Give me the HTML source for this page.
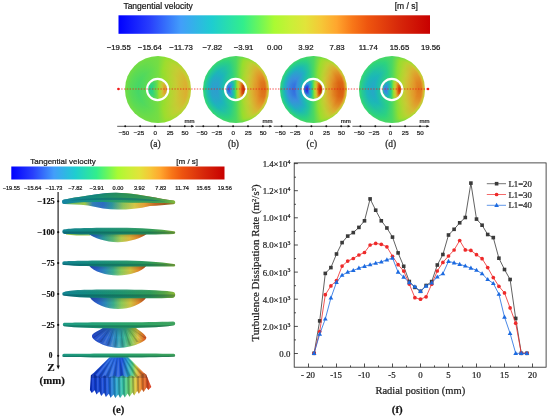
<!DOCTYPE html><html><head><meta charset="utf-8"><title>Figure</title><style>html,body{margin:0;padding:0;background:#fff}#f{position:relative;width:550px;height:418px;overflow:hidden;background:#fff}svg text{stroke:#222;stroke-width:0.22px}</style></head><body><div id="f"><div style="position:absolute;left:124.60px;top:56.20px;width:66.40px;height:66.40px;border-radius:50%;background:conic-gradient(#75dd43 0deg,#93de2f 15deg,#a4da2e 30deg,#b2d631 45deg,#bbd132 60deg,#c0ce33 75deg,#c2ce33 90deg,#c0ce33 105deg,#bbd132 120deg,#b2d631 135deg,#a4da2e 150deg,#93de2f 165deg,#75dd43 180deg,#74dd44 195deg,#72dc45 210deg,#72dc45 225deg,#71dc45 240deg,#70dc45 255deg,#70dc45 270deg,#70dc45 285deg,#71dc45 300deg,#72dc45 315deg,#72dc45 330deg,#74dd44 345deg,#75dd43 360deg)"></div><div style="position:absolute;left:125.60px;top:57.20px;width:64.40px;height:64.40px;border-radius:50%;background:conic-gradient(#75dd43 0deg,#97de2c 15deg,#a9d82f 30deg,#b7d332 45deg,#c2ce33 60deg,#c8ca34 75deg,#cac834 90deg,#c8ca34 105deg,#c2ce33 120deg,#b7d332 135deg,#a9d82f 150deg,#97de2c 165deg,#75dd43 180deg,#72dc45 195deg,#6fdc46 210deg,#6ddc47 225deg,#6ddc48 240deg,#6cdc49 255deg,#6bdc49 270deg,#6cdc49 285deg,#6ddc48 300deg,#6ddc47 315deg,#6fdc46 330deg,#72dc45 345deg,#75dd43 360deg)"></div><div style="position:absolute;left:126.60px;top:58.20px;width:62.40px;height:62.40px;border-radius:50%;background:conic-gradient(#75dd43 0deg,#9ade2d 15deg,#aed630 30deg,#bed033 45deg,#c9c934 60deg,#cfc133 75deg,#d1be32 90deg,#cfc133 105deg,#c9c934 120deg,#bed033 135deg,#aed630 150deg,#9ade2d 165deg,#75dd43 180deg,#70dc45 195deg,#6ddc48 210deg,#6adc4a 225deg,#67dc4c 240deg,#66dc4d 255deg,#65dc4d 270deg,#66dc4d 285deg,#67dc4c 300deg,#6adc4a 315deg,#6ddc48 330deg,#70dc45 345deg,#75dd43 360deg)"></div><div style="position:absolute;left:127.60px;top:59.20px;width:60.40px;height:60.40px;border-radius:50%;background:conic-gradient(#75dd43 0deg,#9ddd2d 15deg,#b3d531 30deg,#c4cd33 45deg,#cfc133 60deg,#d6b732 75deg,#d8b431 90deg,#d6b732 105deg,#cfc133 120deg,#c4cd33 135deg,#b3d531 150deg,#9ddd2d 165deg,#75dd43 180deg,#6edc46 195deg,#6adc4a 210deg,#66dc4d 225deg,#63db4e 240deg,#61db4f 255deg,#61db50 270deg,#61db4f 285deg,#63db4e 300deg,#66dc4d 315deg,#6adc4a 330deg,#6edc46 345deg,#75dd43 360deg)"></div><div style="position:absolute;left:128.60px;top:60.20px;width:58.40px;height:58.40px;border-radius:50%;background:conic-gradient(#75dd43 0deg,#9edc2d 15deg,#b6d431 30deg,#c7cb34 45deg,#d3bc32 60deg,#dab131 75deg,#dcad2f 90deg,#dab131 105deg,#d3bc32 120deg,#c7cb34 135deg,#b6d431 150deg,#9edc2d 165deg,#75dd43 180deg,#6ddc48 195deg,#67dc4c 210deg,#62db4f 225deg,#5edb51 240deg,#5ddb53 255deg,#5cdb54 270deg,#5ddb53 285deg,#5edb51 300deg,#62db4f 315deg,#67dc4c 330deg,#6ddc48 345deg,#75dd43 360deg)"></div><div style="position:absolute;left:129.60px;top:61.20px;width:56.40px;height:56.40px;border-radius:50%;background:conic-gradient(#75dd43 0deg,#9edd2d 15deg,#b5d531 30deg,#c6cc34 45deg,#d2be32 60deg,#d9b331 75deg,#dbaf30 90deg,#d9b331 105deg,#d2be32 120deg,#c6cc34 135deg,#b5d531 150deg,#9edd2d 165deg,#75dd43 180deg,#6cdc49 195deg,#65db4d 210deg,#5edb51 225deg,#5bdb55 240deg,#59da56 255deg,#58da57 270deg,#59da56 285deg,#5bdb55 300deg,#5edb51 315deg,#65db4d 330deg,#6cdc49 345deg,#75dd43 360deg)"></div><div style="position:absolute;left:130.60px;top:62.20px;width:54.40px;height:54.40px;border-radius:50%;background:conic-gradient(#75dd43 0deg,#9ddd2d 15deg,#b4d531 30deg,#c6cd34 45deg,#d1bf33 60deg,#d7b631 75deg,#dab231 90deg,#d7b631 105deg,#d1bf33 120deg,#c6cd34 135deg,#b4d531 150deg,#9ddd2d 165deg,#75dd43 180deg,#6bdc49 195deg,#63db4e 210deg,#5ddb53 225deg,#59da56 240deg,#56da58 255deg,#55da59 270deg,#56da58 285deg,#59da56 300deg,#5ddb53 315deg,#63db4e 330deg,#6bdc49 345deg,#75dd43 360deg)"></div><div style="position:absolute;left:131.60px;top:63.20px;width:52.40px;height:52.40px;border-radius:50%;background:conic-gradient(#75dd43 0deg,#9ddd2d 15deg,#b3d631 30deg,#c4cd33 45deg,#cfc133 60deg,#d6b732 75deg,#d8b431 90deg,#d6b732 105deg,#cfc133 120deg,#c4cd33 135deg,#b3d631 150deg,#9ddd2d 165deg,#75dd43 180deg,#6adc4a 195deg,#62db4f 210deg,#5bdb54 225deg,#56da58 240deg,#54d95a 255deg,#53d95b 270deg,#54d95a 285deg,#56da58 300deg,#5bdb54 315deg,#62db4f 330deg,#6adc4a 345deg,#75dd43 360deg)"></div><div style="position:absolute;left:132.60px;top:64.20px;width:50.40px;height:50.40px;border-radius:50%;background:conic-gradient(#75dd43 0deg,#9cdd2d 15deg,#b2d631 30deg,#c3ce33 45deg,#cec333 60deg,#d5b932 75deg,#d7b632 90deg,#d5b932 105deg,#cec333 120deg,#c3ce33 135deg,#b2d631 150deg,#9cdd2d 165deg,#75dd43 180deg,#69dc4a 195deg,#60db50 210deg,#59da55 225deg,#55da5a 240deg,#52d95d 255deg,#50d95d 270deg,#52d95d 285deg,#55da5a 300deg,#59da55 315deg,#60db50 330deg,#69dc4a 345deg,#75dd43 360deg)"></div><div style="position:absolute;left:133.60px;top:65.20px;width:48.40px;height:48.40px;border-radius:50%;background:conic-gradient(#75dd43 0deg,#9cdd2d 15deg,#b1d631 30deg,#c1ce33 45deg,#cdc533 60deg,#d3bc32 75deg,#d6b832 90deg,#d3bc32 105deg,#cdc533 120deg,#c1ce33 135deg,#b1d631 150deg,#9cdd2d 165deg,#75dd43 180deg,#68dc4b 195deg,#5edb51 210deg,#57da57 225deg,#52d95c 240deg,#4fd95e 255deg,#4ed85f 270deg,#4fd95e 285deg,#52d95c 300deg,#57da57 315deg,#5edb51 330deg,#68dc4b 345deg,#75dd43 360deg)"></div><div style="position:absolute;left:134.60px;top:66.20px;width:46.40px;height:46.40px;border-radius:50%;background:conic-gradient(#75dd43 0deg,#9bde2d 15deg,#b0d631 30deg,#c0ce33 45deg,#ccc633 60deg,#d2be32 75deg,#d4bb32 90deg,#d2be32 105deg,#ccc633 120deg,#c0ce33 135deg,#b0d631 150deg,#9bde2d 165deg,#75dd43 180deg,#67dc4c 195deg,#5ddb52 210deg,#55da59 225deg,#50d95d 240deg,#4dd860 255deg,#4cd862 270deg,#4dd860 285deg,#50d95d 300deg,#55da59 315deg,#5ddb52 330deg,#67dc4c 345deg,#75dd43 360deg)"></div><div style="position:absolute;left:135.60px;top:67.20px;width:44.40px;height:44.40px;border-radius:50%;background:conic-gradient(#75dd43 0deg,#9ade2d 15deg,#aed630 30deg,#becf33 45deg,#cac934 60deg,#d0c033 75deg,#d2be32 90deg,#d0c033 105deg,#cac934 120deg,#becf33 135deg,#aed630 150deg,#9ade2d 165deg,#75dd43 180deg,#66dc4c 195deg,#5cdb54 210deg,#54d95a 225deg,#4ed85f 240deg,#4bd863 255deg,#49d864 270deg,#4bd863 285deg,#4ed85f 300deg,#54d95a 315deg,#5cdb54 330deg,#66dc4c 345deg,#75dd43 360deg)"></div><div style="position:absolute;left:136.60px;top:68.20px;width:42.40px;height:42.40px;border-radius:50%;background:conic-gradient(#75dd43 0deg,#99de2c 15deg,#add730 30deg,#bcd132 45deg,#c6cc34 60deg,#cdc533 75deg,#cec233 90deg,#cdc533 105deg,#c6cc34 120deg,#bcd132 135deg,#add730 150deg,#99de2c 165deg,#75dd43 180deg,#65dc4d 195deg,#5bda55 210deg,#52d95c 225deg,#4cd861 240deg,#48d765 255deg,#46d765 270deg,#48d765 285deg,#4cd861 300deg,#52d95c 315deg,#5bda55 330deg,#65dc4d 345deg,#75dd43 360deg)"></div><div style="position:absolute;left:137.60px;top:69.20px;width:40.40px;height:40.40px;border-radius:50%;background:conic-gradient(#75dd43 0deg,#98de2c 15deg,#aad830 30deg,#b9d232 45deg,#c4ce33 60deg,#cac834 75deg,#ccc633 90deg,#cac834 105deg,#c4ce33 120deg,#b9d232 135deg,#aad830 150deg,#98de2c 165deg,#75dd43 180deg,#65dc4d 195deg,#5ada55 210deg,#51d95d 225deg,#4bd862 240deg,#47d765 255deg,#45d766 270deg,#47d765 285deg,#4bd862 300deg,#51d95d 315deg,#5ada55 330deg,#65dc4d 345deg,#75dd43 360deg)"></div><div style="position:absolute;left:138.60px;top:70.20px;width:38.40px;height:38.40px;border-radius:50%;background:conic-gradient(#75dd43 0deg,#97de2c 15deg,#a8d92f 30deg,#b6d432 45deg,#c0ce33 60deg,#c6cc34 75deg,#c8ca34 90deg,#c6cc34 105deg,#c0ce33 120deg,#b6d432 135deg,#a8d92f 150deg,#97de2c 165deg,#75dd43 180deg,#66dc4d 195deg,#5bdb54 210deg,#53d95b 225deg,#4dd860 240deg,#49d864 255deg,#48d865 270deg,#49d864 285deg,#4dd860 300deg,#53d95b 315deg,#5bdb54 330deg,#66dc4d 345deg,#75dd43 360deg)"></div><div style="position:absolute;left:139.60px;top:71.20px;width:36.40px;height:36.40px;border-radius:50%;background:conic-gradient(#75dd43 0deg,#95de2e 15deg,#a6da2f 30deg,#b4d531 45deg,#bdd032 60deg,#c3ce33 75deg,#c5cd34 90deg,#c3ce33 105deg,#bdd032 120deg,#b4d531 135deg,#a6da2f 150deg,#95de2e 165deg,#75dd43 180deg,#67dc4c 195deg,#5ddb53 210deg,#55da59 225deg,#4fd95e 240deg,#4cd861 255deg,#4bd862 270deg,#4cd861 285deg,#4fd95e 300deg,#55da59 315deg,#5ddb53 330deg,#67dc4c 345deg,#75dd43 360deg)"></div><div style="position:absolute;left:140.60px;top:72.20px;width:34.40px;height:34.40px;border-radius:50%;background:conic-gradient(#75dd43 0deg,#92de30 15deg,#a4da2e 30deg,#b1d631 45deg,#b9d232 60deg,#bfcf33 75deg,#c1ce33 90deg,#bfcf33 105deg,#b9d232 120deg,#b1d631 135deg,#a4da2e 150deg,#92de30 165deg,#75dd43 180deg,#68dc4b 195deg,#5ddb52 210deg,#56da58 225deg,#51d95d 240deg,#4ed95f 255deg,#4dd860 270deg,#4ed95f 285deg,#51d95d 300deg,#56da58 315deg,#5ddb52 330deg,#68dc4b 345deg,#75dd43 360deg)"></div><div style="position:absolute;left:141.60px;top:73.20px;width:32.40px;height:32.40px;border-radius:50%;background:conic-gradient(#75dd43 0deg,#90de31 15deg,#a1db2e 30deg,#aed730 45deg,#b6d432 60deg,#bbd132 75deg,#bdd032 90deg,#bbd132 105deg,#b6d432 120deg,#aed730 135deg,#a1db2e 150deg,#90de31 165deg,#75dd43 180deg,#69dc4b 195deg,#5fdb51 210deg,#58da56 225deg,#54d95b 240deg,#50d95d 255deg,#4fd95e 270deg,#50d95d 285deg,#54d95b 300deg,#58da56 315deg,#5fdb51 330deg,#69dc4b 345deg,#75dd43 360deg)"></div><div style="position:absolute;left:142.60px;top:74.20px;width:30.40px;height:30.40px;border-radius:50%;background:conic-gradient(#75dd43 0deg,#8ede33 15deg,#9fdc2d 30deg,#aad830 45deg,#b3d631 60deg,#b7d332 75deg,#b9d232 90deg,#b7d332 105deg,#b3d631 120deg,#aad830 135deg,#9fdc2d 150deg,#8ede33 165deg,#75dd43 180deg,#6adc4a 195deg,#61db4f 210deg,#5ada55 225deg,#55da59 240deg,#53d95b 255deg,#52d95c 270deg,#53d95b 285deg,#55da59 300deg,#5ada55 315deg,#61db4f 330deg,#6adc4a 345deg,#75dd43 360deg)"></div><div style="position:absolute;left:143.60px;top:75.20px;width:28.40px;height:28.40px;border-radius:50%;background:conic-gradient(#75dd43 0deg,#8cde35 15deg,#9ddd2d 30deg,#a7d92f 45deg,#afd630 60deg,#b4d531 75deg,#b6d431 90deg,#b4d531 105deg,#afd630 120deg,#a7d92f 135deg,#9ddd2d 150deg,#8cde35 165deg,#75dd43 180deg,#6bdc49 195deg,#63db4e 210deg,#5ddb53 225deg,#58da56 240deg,#55da58 255deg,#55da59 270deg,#55da58 285deg,#58da56 300deg,#5ddb53 315deg,#63db4e 330deg,#6bdc49 345deg,#75dd43 360deg)"></div><div style="position:absolute;left:144.60px;top:76.20px;width:26.40px;height:26.40px;border-radius:50%;background:conic-gradient(#75dd43 0deg,#89de35 15deg,#9bde2d 30deg,#a4da2e 45deg,#abd830 60deg,#afd631 75deg,#b1d631 90deg,#afd631 105deg,#abd830 120deg,#a4da2e 135deg,#9bde2d 150deg,#89de35 165deg,#75dd43 180deg,#6ddc48 195deg,#65dc4d 210deg,#60db50 225deg,#5ddb53 240deg,#5ada55 255deg,#59da55 270deg,#5ada55 285deg,#5ddb53 300deg,#60db50 315deg,#65dc4d 330deg,#6ddc48 345deg,#75dd43 360deg)"></div><div style="position:absolute;left:145.60px;top:77.20px;width:24.40px;height:24.40px;border-radius:50%;background:conic-gradient(#75dd43 0deg,#86de37 15deg,#98de2c 30deg,#a0dc2e 45deg,#a6d92f 60deg,#abd830 75deg,#acd730 90deg,#abd830 105deg,#a6d92f 120deg,#a0dc2e 135deg,#98de2c 150deg,#86de37 165deg,#75dd43 180deg,#6ddc47 195deg,#68dc4b 210deg,#64db4d 225deg,#61db50 240deg,#5edb51 255deg,#5edb52 270deg,#5edb51 285deg,#61db50 300deg,#64db4d 315deg,#68dc4b 330deg,#6ddc47 345deg,#75dd43 360deg)"></div><div style="position:absolute;left:146.60px;top:78.20px;width:22.40px;height:22.40px;border-radius:50%;background:conic-gradient(#75dd43 0deg,#85de39 15deg,#95de2e 30deg,#9edd2d 45deg,#a3db2e 60deg,#a6d92f 75deg,#a7d92f 90deg,#a6d92f 105deg,#a3db2e 120deg,#9edd2d 135deg,#95de2e 150deg,#85de39 165deg,#75dd43 180deg,#6fdc46 195deg,#6cdc49 210deg,#68dc4b 225deg,#65dc4d 240deg,#64db4d 255deg,#63db4e 270deg,#64db4d 285deg,#65dc4d 300deg,#68dc4b 315deg,#6cdc49 330deg,#6fdc46 345deg,#75dd43 360deg)"></div><div style="position:absolute;left:147.60px;top:79.20px;width:20.40px;height:20.40px;border-radius:50%;background:conic-gradient(#75dd43 0deg,#82de3b 15deg,#90de31 30deg,#9ade2c 45deg,#9edc2d 60deg,#a1db2e 75deg,#a3db2e 90deg,#a1db2e 105deg,#9edc2d 120deg,#9ade2c 135deg,#90de31 150deg,#82de3b 165deg,#75dd43 180deg,#71dc45 195deg,#6edc47 210deg,#6cdc49 225deg,#6adc4a 240deg,#69dc4b 255deg,#68dc4b 270deg,#69dc4b 285deg,#6adc4a 300deg,#6cdc49 315deg,#6edc47 330deg,#71dc45 345deg,#75dd43 360deg)"></div><div style="position:absolute;left:148.40px;top:80.20px;width:18.40px;height:18.40px;border-radius:50%;background:conic-gradient(#75dd43 0deg,#a0dc2e 15deg,#bad232 30deg,#cdc533 45deg,#dab331 60deg,#dea52d 75deg,#dfa02c 90deg,#dea52d 105deg,#dab331 120deg,#cdc533 135deg,#bad232 150deg,#a0dc2e 165deg,#75dd43 180deg,#5cdb54 195deg,#4ad863 210deg,#3cd66f 225deg,#31d579 240deg,#2cd37e 255deg,#2cd27f 270deg,#2cd37e 285deg,#31d579 300deg,#3cd66f 315deg,#4ad863 330deg,#5cdb54 345deg,#75dd43 360deg)"></div><div style="position:absolute;left:149.40px;top:81.20px;width:16.40px;height:16.40px;border-radius:50%;background:conic-gradient(#75dd43 0deg,#a2db2e 15deg,#bdd032 30deg,#d0c033 45deg,#dcad2f 60deg,#e09e2c 75deg,#e1992b 90deg,#e09e2c 105deg,#dcad2f 120deg,#d0c033 135deg,#bdd032 150deg,#a2db2e 165deg,#75dd43 180deg,#5ada55 195deg,#47d765 210deg,#37d673 225deg,#2cd47d 240deg,#2bd181 255deg,#2bd183 270deg,#2bd181 285deg,#2cd47d 300deg,#37d673 315deg,#47d765 330deg,#5ada55 345deg,#75dd43 360deg)"></div><div style="position:absolute;left:150.40px;top:82.20px;width:14.40px;height:14.40px;border-radius:50%;background:conic-gradient(#75dd43 0deg,#a2db2e 15deg,#bcd132 30deg,#cfc133 45deg,#dcae30 60deg,#df9e2c 75deg,#e19a2b 90deg,#df9e2c 105deg,#dcae30 120deg,#cfc133 135deg,#bcd132 150deg,#a2db2e 165deg,#75dd43 180deg,#58da56 195deg,#44d768 210deg,#34d576 225deg,#2cd280 240deg,#2ad085 255deg,#2acf86 270deg,#2ad085 285deg,#2cd280 300deg,#34d576 315deg,#44d768 330deg,#58da56 345deg,#75dd43 360deg)"></div><div style="position:absolute;left:151.40px;top:83.20px;width:12.40px;height:12.40px;border-radius:50%;background:conic-gradient(#75dd43 0deg,#9edd2d 15deg,#b6d431 30deg,#c7cb34 45deg,#d3bc32 60deg,#dab231 75deg,#dbae30 90deg,#dab231 105deg,#d3bc32 120deg,#c7cb34 135deg,#b6d431 150deg,#9edd2d 165deg,#75dd43 180deg,#58da56 195deg,#45d768 210deg,#34d576 225deg,#2cd27f 240deg,#2ad085 255deg,#2acf86 270deg,#2ad085 285deg,#2cd27f 300deg,#34d576 315deg,#45d768 330deg,#58da56 345deg,#75dd43 360deg)"></div><div style="position:absolute;left:152.40px;top:84.20px;width:10.40px;height:10.40px;border-radius:50%;background:conic-gradient(#75dd43 0deg,#9ade2c 15deg,#aed730 30deg,#bed033 45deg,#c9ca34 60deg,#cec233 75deg,#d1be33 90deg,#cec233 105deg,#c9ca34 120deg,#bed033 135deg,#aed730 150deg,#9ade2c 165deg,#75dd43 180deg,#5ddb53 195deg,#4cd861 210deg,#3ed66d 225deg,#35d575 240deg,#2ed47b 255deg,#2cd47d 270deg,#2ed47b 285deg,#35d575 300deg,#3ed66d 315deg,#4cd861 330deg,#5ddb53 345deg,#75dd43 360deg)"></div><div style="position:absolute;left:153.40px;top:85.20px;width:8.40px;height:8.40px;border-radius:50%;background:conic-gradient(#75dd43 0deg,#95de2e 15deg,#a6da2f 30deg,#b4d531 45deg,#bdd032 60deg,#c3ce33 75deg,#c5cd33 90deg,#c3ce33 105deg,#bdd032 120deg,#b4d531 135deg,#a6da2f 150deg,#95de2e 165deg,#75dd43 180deg,#62db4f 195deg,#54d95a 210deg,#49d864 225deg,#41d66b 240deg,#3dd66e 255deg,#3bd670 270deg,#3dd66e 285deg,#41d66b 300deg,#49d864 315deg,#54d95a 330deg,#62db4f 345deg,#75dd43 360deg)"></div><div style="position:absolute;left:154.40px;top:86.20px;width:6.40px;height:6.40px;border-radius:50%;background:conic-gradient(#75dd43 0deg,#8cde34 15deg,#9edd2d 30deg,#a7d92f 45deg,#afd631 60deg,#b5d531 75deg,#b6d432 90deg,#b5d531 105deg,#afd631 120deg,#a7d92f 135deg,#9edd2d 150deg,#8cde34 165deg,#75dd43 180deg,#66dc4c 195deg,#5cdb54 210deg,#54d95a 225deg,#4ed95f 240deg,#4bd862 255deg,#49d864 270deg,#4bd862 285deg,#4ed95f 300deg,#54d95a 315deg,#5cdb54 330deg,#66dc4c 345deg,#75dd43 360deg)"></div><div style="position:absolute;left:155.40px;top:87.20px;width:4.40px;height:4.40px;border-radius:50%;background:conic-gradient(#75dd43 0deg,#83de3a 15deg,#93de2f 30deg,#9cdd2d 45deg,#a1db2e 60deg,#a4da2e 75deg,#a6da2f 90deg,#a4da2e 105deg,#a1db2e 120deg,#9cdd2d 135deg,#93de2f 150deg,#83de3a 165deg,#75dd43 180deg,#6cdc49 195deg,#65dc4d 210deg,#5fdb51 225deg,#5bdb54 240deg,#59da56 255deg,#58da56 270deg,#59da56 285deg,#5bdb54 300deg,#5fdb51 315deg,#65dc4d 330deg,#6cdc49 345deg,#75dd43 360deg)"></div><div style="position:absolute;left:156.40px;top:88.20px;width:2.40px;height:2.40px;border-radius:50%;background:conic-gradient(#75dd43 0deg,#7bdd3f 15deg,#81dd3b 30deg,#86de37 45deg,#8cde35 60deg,#8ede33 75deg,#8fde32 90deg,#8ede33 105deg,#8cde35 120deg,#86de37 135deg,#81dd3b 150deg,#7bdd3f 165deg,#75dd43 180deg,#71dc45 195deg,#6edc47 210deg,#6cdc49 225deg,#6adc4a 240deg,#69dc4b 255deg,#68dc4b 270deg,#69dc4b 285deg,#6adc4a 300deg,#6cdc49 315deg,#6edc47 330deg,#71dc45 345deg,#75dd43 360deg)"></div><div style="position:absolute;left:157.40px;top:89.20px;width:0.40px;height:0.40px;border-radius:50%;background:conic-gradient(#75dd43 0deg,#75dd43 15deg,#75dd43 30deg,#75dd43 45deg,#75dd43 60deg,#75dd43 75deg,#75dd43 90deg,#75dd43 105deg,#75dd43 120deg,#75dd43 135deg,#75dd43 150deg,#75dd43 165deg,#75dd43 180deg,#75dd43 195deg,#75dd43 210deg,#75dd43 225deg,#75dd43 240deg,#75dd43 255deg,#75dd43 270deg,#75dd43 285deg,#75dd43 300deg,#75dd43 315deg,#75dd43 330deg,#75dd43 345deg,#75dd43 360deg)"></div><div style="position:absolute;left:202.70px;top:56.20px;width:66.40px;height:66.40px;border-radius:50%;background:conic-gradient(#4ad863 0deg,#73dc45 15deg,#9cdd2d 30deg,#afd631 45deg,#bdd032 60deg,#c5cd34 75deg,#c7cb34 90deg,#c5cd34 105deg,#bdd032 120deg,#afd631 135deg,#9cdd2d 150deg,#73dc45 165deg,#4ad863 180deg,#43d769 195deg,#3dd66e 210deg,#39d672 225deg,#35d575 240deg,#33d577 255deg,#33d577 270deg,#33d577 285deg,#35d575 300deg,#39d672 315deg,#3dd66e 330deg,#43d769 345deg,#4ad863 360deg)"></div><div style="position:absolute;left:203.70px;top:57.20px;width:64.40px;height:64.40px;border-radius:50%;background:conic-gradient(#4ad863 0deg,#84de39 15deg,#acd730 30deg,#c4ce33 45deg,#d3bd32 60deg,#dbaf30 75deg,#ddaa2f 90deg,#dbaf30 105deg,#d3bd32 120deg,#c4ce33 135deg,#acd730 150deg,#84de39 165deg,#4ad863 180deg,#3cd66f 195deg,#31d579 210deg,#2cd27f 225deg,#2bd084 240deg,#2acf86 255deg,#29ce87 270deg,#2acf86 285deg,#2bd084 300deg,#2cd27f 315deg,#31d579 330deg,#3cd66f 345deg,#4ad863 360deg)"></div><div style="position:absolute;left:204.70px;top:58.20px;width:62.40px;height:62.40px;border-radius:50%;background:conic-gradient(#4ad863 0deg,#90de31 15deg,#b7d332 30deg,#d0c033 45deg,#dea62d 60deg,#e39329 75deg,#e18b24 90deg,#e39329 105deg,#dea62d 120deg,#d0c033 135deg,#b7d332 150deg,#90de31 165deg,#4ad863 180deg,#35d575 195deg,#2bd182 210deg,#29ce8a 225deg,#26ca90 240deg,#25c895 255deg,#25c796 270deg,#25c895 285deg,#26ca90 300deg,#29ce8a 315deg,#2bd182 330deg,#35d575 345deg,#4ad863 360deg)"></div><div style="position:absolute;left:205.70px;top:59.20px;width:60.40px;height:60.40px;border-radius:50%;background:conic-gradient(#4ad863 0deg,#98de2c 15deg,#bed033 30deg,#d8b531 45deg,#e39529 60deg,#de781c 75deg,#de6f18 90deg,#de781c 105deg,#e39529 120deg,#d8b531 135deg,#bed033 150deg,#98de2c 165deg,#4ad863 180deg,#2fd47b 195deg,#29ce89 210deg,#25c894 225deg,#24c59c 240deg,#22c2a1 255deg,#21c1a3 270deg,#22c2a1 285deg,#24c59c 300deg,#25c894 315deg,#29ce89 330deg,#2fd47b 345deg,#4ad863 360deg)"></div><div style="position:absolute;left:206.70px;top:60.20px;width:58.40px;height:58.40px;border-radius:50%;background:conic-gradient(#4ad863 0deg,#98de2c 15deg,#bed033 30deg,#d8b531 45deg,#e39529 60deg,#de781c 75deg,#de6f18 90deg,#de781c 105deg,#e39529 120deg,#d8b531 135deg,#bed033 150deg,#98de2c 165deg,#4ad863 180deg,#2cd37e 195deg,#27cb8e 210deg,#24c59c 225deg,#20c0a6 240deg,#1ebdac 255deg,#1ebcae 270deg,#1ebdac 285deg,#20c0a6 300deg,#24c59c 315deg,#27cb8e 330deg,#2cd37e 345deg,#4ad863 360deg)"></div><div style="position:absolute;left:207.70px;top:61.20px;width:56.40px;height:56.40px;border-radius:50%;background:conic-gradient(#4ad863 0deg,#98de2c 15deg,#bed033 30deg,#d8b531 45deg,#e39529 60deg,#de781c 75deg,#de6f18 90deg,#de781c 105deg,#e39529 120deg,#d8b531 135deg,#bed033 150deg,#98de2c 165deg,#4ad863 180deg,#2bd182 195deg,#25c895 210deg,#21c1a4 225deg,#1dbbaf 240deg,#1cb8b6 255deg,#1bb6b9 270deg,#1cb8b6 285deg,#1dbbaf 300deg,#21c1a4 315deg,#25c895 330deg,#2bd182 345deg,#4ad863 360deg)"></div><div style="position:absolute;left:208.70px;top:62.20px;width:54.40px;height:54.40px;border-radius:50%;background:conic-gradient(#4ad863 0deg,#98de2c 15deg,#bed033 30deg,#d8b531 45deg,#e39529 60deg,#de781c 75deg,#de6f18 90deg,#de781c 105deg,#e39529 120deg,#d8b531 135deg,#bed033 150deg,#98de2c 165deg,#4ad863 180deg,#2acf85 195deg,#24c69a 210deg,#1ebdac 225deg,#1bb6b9 240deg,#1fb1be 255deg,#20afbf 270deg,#1fb1be 285deg,#1bb6b9 300deg,#1ebdac 315deg,#24c69a 330deg,#2acf85 345deg,#4ad863 360deg)"></div><div style="position:absolute;left:209.70px;top:63.20px;width:52.40px;height:52.40px;border-radius:50%;background:conic-gradient(#4ad863 0deg,#97de2c 15deg,#bed033 30deg,#d7b631 45deg,#e2962a 60deg,#df7b1d 75deg,#de7119 90deg,#df7b1d 105deg,#e2962a 120deg,#d7b631 135deg,#bed033 150deg,#97de2c 165deg,#4ad863 180deg,#29ce88 195deg,#22c3a0 210deg,#1cb9b4 225deg,#20b0be 240deg,#24aac5 255deg,#26a7c6 270deg,#24aac5 285deg,#20b0be 300deg,#1cb9b4 315deg,#22c3a0 330deg,#29ce88 345deg,#4ad863 360deg)"></div><div style="position:absolute;left:210.70px;top:64.20px;width:50.40px;height:50.40px;border-radius:50%;background:conic-gradient(#4ad863 0deg,#96de2d 15deg,#bcd132 30deg,#d6b832 45deg,#e19a2b 60deg,#e08120 75deg,#de781c 90deg,#e08120 105deg,#e19a2b 120deg,#d6b832 135deg,#bcd132 150deg,#96de2d 165deg,#4ad863 180deg,#28cd8b 195deg,#21c0a5 210deg,#1bb6b9 225deg,#24abc3 240deg,#28a5c9 255deg,#2aa2cb 270deg,#28a5c9 285deg,#24abc3 300deg,#1bb6b9 315deg,#21c0a5 330deg,#28cd8b 345deg,#4ad863 360deg)"></div><div style="position:absolute;left:211.70px;top:65.20px;width:48.40px;height:48.40px;border-radius:50%;background:conic-gradient(#4ad863 0deg,#94de2f 15deg,#bad232 30deg,#d4bb32 45deg,#e09e2c 60deg,#e18724 75deg,#df7e1f 90deg,#e18724 105deg,#e09e2c 120deg,#d4bb32 135deg,#bad232 150deg,#94de2f 165deg,#4ad863 180deg,#28cd8b 195deg,#21c0a5 210deg,#1cb6ba 225deg,#24abc4 240deg,#29a4ca 255deg,#2ba1cc 270deg,#29a4ca 285deg,#24abc4 300deg,#1cb6ba 315deg,#21c0a5 330deg,#28cd8b 345deg,#4ad863 360deg)"></div><div style="position:absolute;left:212.70px;top:66.20px;width:46.40px;height:46.40px;border-radius:50%;background:conic-gradient(#4ad863 0deg,#92de30 15deg,#b8d332 30deg,#d2be32 45deg,#dea32c 60deg,#e28e26 75deg,#e18623 90deg,#e28e26 105deg,#dea32c 120deg,#d2be32 135deg,#b8d332 150deg,#92de30 165deg,#4ad863 180deg,#28cd8b 195deg,#21c0a6 210deg,#1cb6ba 225deg,#24aac4 240deg,#2aa3ca 255deg,#2ca1cd 270deg,#2aa3ca 285deg,#24aac4 300deg,#1cb6ba 315deg,#21c0a6 330deg,#28cd8b 345deg,#4ad863 360deg)"></div><div style="position:absolute;left:213.70px;top:67.20px;width:44.40px;height:44.40px;border-radius:50%;background:conic-gradient(#4ad863 0deg,#8fde32 15deg,#b6d432 30deg,#cfc033 45deg,#dea72e 60deg,#e39529 75deg,#e28d25 90deg,#e39529 105deg,#dea72e 120deg,#cfc033 135deg,#b6d432 150deg,#8fde32 165deg,#4ad863 180deg,#28cd8c 195deg,#20bfa6 210deg,#1cb5bb 225deg,#24a9c5 240deg,#2aa3cb 255deg,#2ca0cd 270deg,#2aa3cb 285deg,#24a9c5 300deg,#1cb5bb 315deg,#20bfa6 330deg,#28cd8c 345deg,#4ad863 360deg)"></div><div style="position:absolute;left:214.70px;top:68.20px;width:42.40px;height:42.40px;border-radius:50%;background:conic-gradient(#4ad863 0deg,#8ede33 15deg,#b5d431 30deg,#cec433 45deg,#dcab2f 60deg,#e1992b 75deg,#e39329 90deg,#e1992b 105deg,#dcab2f 120deg,#cec433 135deg,#b5d431 150deg,#8ede33 165deg,#4ad863 180deg,#28cd8c 195deg,#20bfa6 210deg,#1cb4bb 225deg,#25a9c6 240deg,#2ba2cc 255deg,#2c9fce 270deg,#2ba2cc 285deg,#25a9c6 300deg,#1cb4bb 315deg,#20bfa6 330deg,#28cd8c 345deg,#4ad863 360deg)"></div><div style="position:absolute;left:215.70px;top:69.20px;width:40.40px;height:40.40px;border-radius:50%;background:conic-gradient(#4ad863 0deg,#8bde35 15deg,#b3d531 30deg,#ccc633 45deg,#dbb030 60deg,#df9e2c 75deg,#e1992a 90deg,#df9e2c 105deg,#dbb030 120deg,#ccc633 135deg,#b3d531 150deg,#8bde35 165deg,#4ad863 180deg,#28cd8c 195deg,#20bfa7 210deg,#1cb4bc 225deg,#25a8c6 240deg,#2ba1cc 255deg,#2c9ece 270deg,#2ba1cc 285deg,#25a8c6 300deg,#1cb4bc 315deg,#20bfa7 330deg,#28cd8c 345deg,#4ad863 360deg)"></div><div style="position:absolute;left:216.70px;top:70.20px;width:38.40px;height:38.40px;border-radius:50%;background:conic-gradient(#4ad863 0deg,#88de36 15deg,#b0d631 30deg,#c9ca34 45deg,#d8b531 60deg,#dea52d 75deg,#df9f2c 90deg,#dea52d 105deg,#d8b531 120deg,#c9ca34 135deg,#b0d631 150deg,#88de36 165deg,#4ad863 180deg,#28cd8c 195deg,#20bfa6 210deg,#1cb5bb 225deg,#25a9c5 240deg,#2ba2cb 255deg,#2c9fce 270deg,#2ba2cb 285deg,#25a9c5 300deg,#1cb5bb 315deg,#20bfa6 330deg,#28cd8c 345deg,#4ad863 360deg)"></div><div style="position:absolute;left:217.70px;top:71.20px;width:36.40px;height:36.40px;border-radius:50%;background:conic-gradient(#4ad863 0deg,#86de38 15deg,#aed730 30deg,#c6cc34 45deg,#d5b932 60deg,#dcab2f 75deg,#dea62d 90deg,#dcab2f 105deg,#d5b932 120deg,#c6cc34 135deg,#aed730 150deg,#86de38 165deg,#4ad863 180deg,#29ce89 195deg,#22c1a2 210deg,#1cb7b6 225deg,#22aec1 240deg,#26a7c7 255deg,#28a5c9 270deg,#26a7c7 285deg,#22aec1 300deg,#1cb7b6 315deg,#22c1a2 330deg,#29ce89 345deg,#4ad863 360deg)"></div><div style="position:absolute;left:218.70px;top:72.20px;width:34.40px;height:34.40px;border-radius:50%;background:conic-gradient(#4ad863 0deg,#82de3a 15deg,#abd830 30deg,#c2ce33 45deg,#d1be32 60deg,#dab231 75deg,#dcad2f 90deg,#dab231 105deg,#d1be32 120deg,#c2ce33 135deg,#abd830 150deg,#82de3a 165deg,#4ad863 180deg,#29ce87 195deg,#23c49e 210deg,#1dbab1 225deg,#1eb2be 240deg,#23acc3 255deg,#24aac5 270deg,#23acc3 285deg,#1eb2be 300deg,#1dbab1 315deg,#23c49e 330deg,#29ce87 345deg,#4ad863 360deg)"></div><div style="position:absolute;left:219.70px;top:73.20px;width:32.40px;height:32.40px;border-radius:50%;background:conic-gradient(#4ad863 0deg,#7fdd3c 15deg,#a8d92f 30deg,#bfcf33 45deg,#cec333 60deg,#d6b632 75deg,#d9b331 90deg,#d6b632 105deg,#cec333 120deg,#bfcf33 135deg,#a8d92f 150deg,#7fdd3c 165deg,#4ad863 180deg,#2acf85 195deg,#24c69b 210deg,#1ebdac 225deg,#1bb6b9 240deg,#1fb0be 255deg,#21aec0 270deg,#1fb0be 285deg,#1bb6b9 300deg,#1ebdac 315deg,#24c69b 330deg,#2acf85 345deg,#4ad863 360deg)"></div><div style="position:absolute;left:220.70px;top:74.20px;width:30.40px;height:30.40px;border-radius:50%;background:conic-gradient(#4ad863 0deg,#7ddd3d 15deg,#a6da2f 30deg,#bcd132 45deg,#cbc734 60deg,#d3bc32 75deg,#d6b832 90deg,#d3bc32 105deg,#cbc734 120deg,#bcd132 135deg,#a6da2f 150deg,#7ddd3d 165deg,#4ad863 180deg,#2bd183 195deg,#24c796 210deg,#20bfa6 225deg,#1cb9b3 240deg,#1cb6ba 255deg,#1cb4bc 270deg,#1cb6ba 285deg,#1cb9b3 300deg,#20bfa6 315deg,#24c796 330deg,#2bd183 345deg,#4ad863 360deg)"></div><div style="position:absolute;left:221.70px;top:75.20px;width:28.40px;height:28.40px;border-radius:50%;background:conic-gradient(#4ad863 0deg,#79dd40 15deg,#a2db2e 30deg,#b7d332 45deg,#c6cc34 60deg,#cec333 75deg,#d0bf33 90deg,#cec333 105deg,#c6cc34 120deg,#b7d332 135deg,#a2db2e 150deg,#79dd40 165deg,#4ad863 180deg,#2cd280 195deg,#26c992 210deg,#22c2a1 225deg,#1ebdac 240deg,#1cbab2 255deg,#1cb8b5 270deg,#1cbab2 285deg,#1ebdac 300deg,#22c2a1 315deg,#26c992 330deg,#2cd280 345deg,#4ad863 360deg)"></div><div style="position:absolute;left:222.70px;top:76.20px;width:26.40px;height:26.40px;border-radius:50%;background:conic-gradient(#4ad863 0deg,#73dc44 15deg,#9ddd2d 30deg,#b0d631 45deg,#bed033 60deg,#c6cc34 75deg,#c8cb34 90deg,#c6cc34 105deg,#bed033 120deg,#b0d631 135deg,#9ddd2d 150deg,#73dc44 165deg,#4ad863 180deg,#2cd47d 195deg,#28cc8d 210deg,#24c699 225deg,#22c2a2 240deg,#20bfa7 255deg,#1fbeaa 270deg,#20bfa7 285deg,#22c2a2 300deg,#24c699 315deg,#28cc8d 330deg,#2cd47d 345deg,#4ad863 360deg)"></div><div style="position:absolute;left:223.70px;top:77.20px;width:24.40px;height:24.40px;border-radius:50%;background:conic-gradient(#4ad863 0deg,#6ddc48 15deg,#96de2d 30deg,#a8d92f 45deg,#b5d531 60deg,#bcd132 75deg,#becf33 90deg,#bcd132 105deg,#b5d531 120deg,#a8d92f 135deg,#96de2d 150deg,#6ddc48 165deg,#4ad863 180deg,#31d579 195deg,#2acf86 210deg,#26ca91 225deg,#24c698 240deg,#23c49d 255deg,#23c39e 270deg,#23c49d 285deg,#24c698 300deg,#26ca91 315deg,#2acf86 330deg,#31d579 345deg,#4ad863 360deg)"></div><div style="position:absolute;left:224.70px;top:78.20px;width:22.40px;height:22.40px;border-radius:50%;background:conic-gradient(#4ad863 0deg,#67dc4c 15deg,#8ade35 30deg,#9fdc2e 45deg,#abd830 60deg,#b2d631 75deg,#b4d531 90deg,#b2d631 105deg,#abd830 120deg,#9fdc2e 135deg,#8ade35 150deg,#67dc4c 165deg,#4ad863 180deg,#36d675 195deg,#2cd280 210deg,#29ce88 225deg,#27cb8e 240deg,#26c992 255deg,#25c894 270deg,#26c992 285deg,#27cb8e 300deg,#29ce88 315deg,#2cd280 330deg,#36d675 345deg,#4ad863 360deg)"></div><div style="position:absolute;left:225.70px;top:79.20px;width:20.40px;height:20.40px;border-radius:50%;background:conic-gradient(#4ad863 0deg,#61db4f 15deg,#7ddd3d 30deg,#97de2c 45deg,#a0dc2e 60deg,#a6d92f 75deg,#a8d92f 90deg,#a6d92f 105deg,#a0dc2e 120deg,#97de2c 135deg,#7ddd3d 150deg,#61db4f 165deg,#4ad863 180deg,#3cd66f 195deg,#30d57a 210deg,#2cd280 225deg,#2acf85 240deg,#29ce87 255deg,#29ce88 270deg,#29ce87 285deg,#2acf85 300deg,#2cd280 315deg,#30d57a 330deg,#3cd66f 345deg,#4ad863 360deg)"></div><div style="position:absolute;left:226.40px;top:80.20px;width:18.40px;height:18.40px;border-radius:50%;background:conic-gradient(#4ad863 0deg,#a6da2f 15deg,#d3bd32 30deg,#e08221 45deg,#d54f0e 60deg,#cc3c0c 75deg,#c8350b 90deg,#cc3c0c 105deg,#d54f0e 120deg,#e08221 135deg,#d3bd32 150deg,#a6da2f 165deg,#4ad863 180deg,#25c994 195deg,#1cb8b5 210deg,#26a6c7 225deg,#3199d4 240deg,#3890db 255deg,#3a8ede 270deg,#3890db 285deg,#3199d4 300deg,#26a6c7 315deg,#1cb8b5 330deg,#25c994 345deg,#4ad863 360deg)"></div><div style="position:absolute;left:227.40px;top:81.20px;width:16.40px;height:16.40px;border-radius:50%;background:conic-gradient(#4ad863 0deg,#a7d92f 15deg,#d5b932 30deg,#df7a1d 45deg,#d2490d 60deg,#c8350b 75deg,#c52f0a 90deg,#c8350b 105deg,#d2490d 120deg,#df7a1d 135deg,#d5b932 150deg,#a7d92f 165deg,#4ad863 180deg,#24c698 195deg,#1cb4bc 210deg,#2c9fce 225deg,#398fdc 240deg,#377ede 255deg,#3578de 270deg,#377ede 285deg,#398fdc 300deg,#2c9fce 315deg,#1cb4bc 330deg,#24c698 345deg,#4ad863 360deg)"></div><div style="position:absolute;left:228.40px;top:82.20px;width:14.40px;height:14.40px;border-radius:50%;background:conic-gradient(#4ad863 0deg,#a2db2e 15deg,#cec333 30deg,#e39328 45deg,#d95e13 60deg,#d1460c 75deg,#ce410c 90deg,#d1460c 105deg,#d95e13 120deg,#e39328 135deg,#cec333 150deg,#a2db2e 165deg,#4ad863 180deg,#23c59d 195deg,#21aec0 210deg,#3397d5 225deg,#377fde 240deg,#3169df 255deg,#2f62df 270deg,#3169df 285deg,#377fde 300deg,#3397d5 315deg,#21aec0 330deg,#23c59d 345deg,#4ad863 360deg)"></div><div style="position:absolute;left:229.40px;top:83.20px;width:12.40px;height:12.40px;border-radius:50%;background:conic-gradient(#4ad863 0deg,#9bde2d 15deg,#c3ce33 30deg,#dcac2f 45deg,#e08522 60deg,#dc6715 75deg,#d95f13 90deg,#dc6715 105deg,#e08522 120deg,#dcac2f 135deg,#c3ce33 150deg,#9bde2d 165deg,#4ad863 180deg,#23c49e 195deg,#22aec1 210deg,#3496d6 225deg,#367dde 240deg,#3066df 255deg,#2e5fdf 270deg,#3066df 285deg,#367dde 300deg,#3496d6 315deg,#22aec1 330deg,#23c49e 345deg,#4ad863 360deg)"></div><div style="position:absolute;left:230.40px;top:84.20px;width:10.40px;height:10.40px;border-radius:50%;background:conic-gradient(#4ad863 0deg,#8fde32 15deg,#b6d432 30deg,#cfc133 45deg,#dea72e 60deg,#e39529 75deg,#e28d25 90deg,#e39529 105deg,#dea72e 120deg,#cfc133 135deg,#b6d432 150deg,#8fde32 165deg,#4ad863 180deg,#25c895 195deg,#1cb8b6 210deg,#28a6c8 225deg,#3397d6 240deg,#3a8edd 255deg,#3a8ade 270deg,#3a8edd 285deg,#3397d6 300deg,#28a6c8 315deg,#1cb8b6 330deg,#25c895 345deg,#4ad863 360deg)"></div><div style="position:absolute;left:231.40px;top:85.20px;width:8.40px;height:8.40px;border-radius:50%;background:conic-gradient(#4ad863 0deg,#80dd3c 15deg,#a8d92f 30deg,#bfcf33 45deg,#cec233 60deg,#d7b632 75deg,#dab231 90deg,#d7b632 105deg,#cec233 120deg,#bfcf33 135deg,#a8d92f 150deg,#80dd3c 165deg,#4ad863 180deg,#28cd8c 195deg,#20bfa6 210deg,#1cb5bb 225deg,#24a9c5 240deg,#2aa2cb 255deg,#2ca0ce 270deg,#2aa2cb 285deg,#24a9c5 300deg,#1cb5bb 315deg,#20bfa6 330deg,#28cd8c 345deg,#4ad863 360deg)"></div><div style="position:absolute;left:232.40px;top:86.20px;width:6.40px;height:6.40px;border-radius:50%;background:conic-gradient(#4ad863 0deg,#70dc45 15deg,#9ade2c 30deg,#add730 45deg,#b9d232 60deg,#c1ce33 75deg,#c4cd33 90deg,#c1ce33 105deg,#b9d232 120deg,#add730 135deg,#9ade2c 150deg,#70dc45 165deg,#4ad863 180deg,#2bd183 195deg,#25c796 210deg,#20c0a6 225deg,#1cbab2 240deg,#1bb6b9 255deg,#1cb5bb 270deg,#1bb6b9 285deg,#1cbab2 300deg,#20c0a6 315deg,#25c796 330deg,#2bd183 345deg,#4ad863 360deg)"></div><div style="position:absolute;left:233.40px;top:87.20px;width:4.40px;height:4.40px;border-radius:50%;background:conic-gradient(#4ad863 0deg,#61db50 15deg,#7ddd3d 30deg,#96de2d 45deg,#a0dc2e 60deg,#a6da2f 75deg,#a8d92f 90deg,#a6da2f 105deg,#a0dc2e 120deg,#96de2d 135deg,#7ddd3d 150deg,#61db50 165deg,#4ad863 180deg,#31d578 195deg,#2acf86 210deg,#27cb90 225deg,#24c697 240deg,#24c59c 255deg,#23c49e 270deg,#24c59c 285deg,#24c697 300deg,#27cb90 315deg,#2acf86 330deg,#31d578 345deg,#4ad863 360deg)"></div><div style="position:absolute;left:234.40px;top:88.20px;width:2.40px;height:2.40px;border-radius:50%;background:conic-gradient(#4ad863 0deg,#53d95b 15deg,#5ddb53 30deg,#67dc4c 45deg,#6fdc46 60deg,#75dd43 75deg,#76dd42 90deg,#75dd43 105deg,#6fdc46 120deg,#67dc4c 135deg,#5ddb53 150deg,#53d95b 165deg,#4ad863 180deg,#40d66c 195deg,#38d673 210deg,#31d579 225deg,#2cd47d 240deg,#2cd37f 255deg,#2cd27f 270deg,#2cd37f 285deg,#2cd47d 300deg,#31d579 315deg,#38d673 330deg,#40d66c 345deg,#4ad863 360deg)"></div><div style="position:absolute;left:235.40px;top:89.20px;width:0.40px;height:0.40px;border-radius:50%;background:conic-gradient(#4ad863 0deg,#4ad863 15deg,#4ad863 30deg,#4ad863 45deg,#4ad863 60deg,#4ad863 75deg,#4ad863 90deg,#4ad863 105deg,#4ad863 120deg,#4ad863 135deg,#4ad863 150deg,#4ad863 165deg,#4ad863 180deg,#4ad863 195deg,#4ad863 210deg,#4ad863 225deg,#4ad863 240deg,#4ad863 255deg,#4ad863 270deg,#4ad863 285deg,#4ad863 300deg,#4ad863 315deg,#4ad863 330deg,#4ad863 345deg,#4ad863 360deg)"></div><div style="position:absolute;left:280.30px;top:56.20px;width:66.40px;height:66.40px;border-radius:50%;background:conic-gradient(#4ad863 0deg,#76dd42 15deg,#a0dc2e 30deg,#b5d431 45deg,#c3ce33 60deg,#cbc634 75deg,#cec433 90deg,#cbc634 105deg,#c3ce33 120deg,#b5d431 135deg,#a0dc2e 150deg,#76dd42 165deg,#4ad863 180deg,#42d66a 195deg,#3bd670 210deg,#35d575 225deg,#31d578 240deg,#2fd47b 255deg,#2ed47c 270deg,#2fd47b 285deg,#31d578 300deg,#35d575 315deg,#3bd670 330deg,#42d66a 345deg,#4ad863 360deg)"></div><div style="position:absolute;left:281.30px;top:57.20px;width:64.40px;height:64.40px;border-radius:50%;background:conic-gradient(#4ad863 0deg,#88de36 15deg,#b1d631 30deg,#c9c934 45deg,#d9b431 60deg,#dea42d 75deg,#e09e2c 90deg,#dea42d 105deg,#d9b431 120deg,#c9c934 135deg,#b1d631 150deg,#88de36 165deg,#4ad863 180deg,#39d672 195deg,#2cd47d 210deg,#2bd084 225deg,#29ce89 240deg,#28cc8d 255deg,#27cc8e 270deg,#28cc8d 285deg,#29ce89 300deg,#2bd084 315deg,#2cd47d 330deg,#39d672 345deg,#4ad863 360deg)"></div><div style="position:absolute;left:282.30px;top:58.20px;width:62.40px;height:62.40px;border-radius:50%;background:conic-gradient(#4ad863 0deg,#96de2e 15deg,#bbd132 30deg,#d5b932 45deg,#e09c2b 60deg,#e08322 75deg,#df7a1d 90deg,#e08322 105deg,#e09c2b 120deg,#d5b932 135deg,#bbd132 150deg,#96de2e 165deg,#4ad863 180deg,#31d579 195deg,#2ace86 210deg,#26ca91 225deg,#24c699 240deg,#23c49e 255deg,#23c39f 270deg,#23c49e 285deg,#24c699 300deg,#26ca91 315deg,#2ace86 330deg,#31d579 345deg,#4ad863 360deg)"></div><div style="position:absolute;left:283.30px;top:59.20px;width:60.40px;height:60.40px;border-radius:50%;background:conic-gradient(#4ad863 0deg,#9bde2d 15deg,#c2ce33 30deg,#dcad2f 45deg,#e18623 60deg,#dc6915 75deg,#da6114 90deg,#dc6915 105deg,#e18623 120deg,#dcad2f 135deg,#c2ce33 150deg,#9bde2d 165deg,#4ad863 180deg,#2cd37f 195deg,#27ca90 210deg,#23c49e 225deg,#20bea8 240deg,#1ebcae 255deg,#1dbbb0 270deg,#1ebcae 285deg,#20bea8 300deg,#23c49e 315deg,#27ca90 330deg,#2cd37f 345deg,#4ad863 360deg)"></div><div style="position:absolute;left:284.30px;top:60.20px;width:58.40px;height:58.40px;border-radius:50%;background:conic-gradient(#4ad863 0deg,#9bde2d 15deg,#c3ce33 30deg,#dcab2f 45deg,#e08522 60deg,#dc6715 75deg,#d95f13 90deg,#dc6715 105deg,#e08522 120deg,#dcab2f 135deg,#c3ce33 150deg,#9bde2d 165deg,#4ad863 180deg,#2bd084 195deg,#24c698 210deg,#1fbea9 225deg,#1cb8b6 240deg,#1cb4bc 255deg,#1eb2be 270deg,#1cb4bc 285deg,#1cb8b6 300deg,#1fbea9 315deg,#24c698 330deg,#2bd084 345deg,#4ad863 360deg)"></div><div style="position:absolute;left:285.30px;top:61.20px;width:56.40px;height:56.40px;border-radius:50%;background:conic-gradient(#4ad863 0deg,#9bde2d 15deg,#c3ce33 30deg,#ddaa2f 45deg,#e08321 60deg,#db6514 75deg,#d95d13 90deg,#db6514 105deg,#e08321 120deg,#ddaa2f 135deg,#c3ce33 150deg,#9bde2d 165deg,#4ad863 180deg,#29ce88 195deg,#22c2a0 210deg,#1cb9b4 225deg,#20afbf 240deg,#24a9c5 255deg,#26a7c6 270deg,#24a9c5 285deg,#20afbf 300deg,#1cb9b4 315deg,#22c2a0 330deg,#29ce88 345deg,#4ad863 360deg)"></div><div style="position:absolute;left:286.30px;top:62.20px;width:54.40px;height:54.40px;border-radius:50%;background:conic-gradient(#4ad863 0deg,#9cdd2d 15deg,#c4cd33 30deg,#dda92e 45deg,#e08120 60deg,#db6514 75deg,#d85d12 90deg,#db6514 105deg,#e08120 120deg,#dda92e 135deg,#c4cd33 150deg,#9cdd2d 165deg,#4ad863 180deg,#28cc8d 195deg,#1fbea8 210deg,#1eb2bd 225deg,#27a6c7 240deg,#2c9fce 255deg,#2e9dd0 270deg,#2c9fce 285deg,#27a6c7 300deg,#1eb2bd 315deg,#1fbea8 330deg,#28cc8d 345deg,#4ad863 360deg)"></div><div style="position:absolute;left:287.30px;top:63.20px;width:52.40px;height:52.40px;border-radius:50%;background:conic-gradient(#4ad863 0deg,#9bde2d 15deg,#c4cd33 30deg,#dda92e 45deg,#e08121 60deg,#db6514 75deg,#d85d12 90deg,#db6514 105deg,#e08121 120deg,#dda92e 135deg,#c4cd33 150deg,#9bde2d 165deg,#4ad863 180deg,#26ca91 195deg,#1dbab1 210deg,#24aac4 225deg,#2e9dd0 240deg,#3595d7 255deg,#3692da 270deg,#3595d7 285deg,#2e9dd0 300deg,#24aac4 315deg,#1dbab1 330deg,#26ca91 345deg,#4ad863 360deg)"></div><div style="position:absolute;left:288.30px;top:64.20px;width:50.40px;height:50.40px;border-radius:50%;background:conic-gradient(#4ad863 0deg,#9ade2d 15deg,#c2ce33 30deg,#dcad2f 45deg,#e18623 60deg,#dc6915 75deg,#da6114 90deg,#dc6915 105deg,#e18623 120deg,#dcad2f 135deg,#c2ce33 150deg,#9ade2d 165deg,#4ad863 180deg,#25c895 195deg,#1cb7b7 210deg,#29a5c9 225deg,#3496d6 240deg,#3b8dde 255deg,#3987de 270deg,#3b8dde 285deg,#3496d6 300deg,#29a5c9 315deg,#1cb7b7 330deg,#25c895 345deg,#4ad863 360deg)"></div><div style="position:absolute;left:289.30px;top:65.20px;width:48.40px;height:48.40px;border-radius:50%;background:conic-gradient(#4ad863 0deg,#99de2c 15deg,#c0ce33 30deg,#dbaf30 45deg,#e28c25 60deg,#de6e18 75deg,#db6614 90deg,#de6e18 105deg,#e28c25 120deg,#dbaf30 135deg,#c0ce33 150deg,#99de2c 165deg,#4ad863 180deg,#25c796 195deg,#1bb6b9 210deg,#2aa3cb 225deg,#3594d8 240deg,#3a88de 255deg,#3882de 270deg,#3a88de 285deg,#3594d8 300deg,#2aa3cb 315deg,#1bb6b9 330deg,#25c796 345deg,#4ad863 360deg)"></div><div style="position:absolute;left:290.30px;top:66.20px;width:46.40px;height:46.40px;border-radius:50%;background:conic-gradient(#4ad863 0deg,#98de2c 15deg,#bfcf33 30deg,#d9b331 45deg,#e39128 60deg,#de751b 75deg,#dd6b16 90deg,#de751b 105deg,#e39128 120deg,#d9b331 135deg,#bfcf33 150deg,#98de2c 165deg,#4ad863 180deg,#24c797 195deg,#1cb6ba 210deg,#2ca1cd 225deg,#3792da 240deg,#3884de 255deg,#367dde 270deg,#3884de 285deg,#3792da 300deg,#2ca1cd 315deg,#1cb6ba 330deg,#24c797 345deg,#4ad863 360deg)"></div><div style="position:absolute;left:291.30px;top:67.20px;width:44.40px;height:44.40px;border-radius:50%;background:conic-gradient(#4ad863 0deg,#97de2c 15deg,#bed033 30deg,#d7b631 45deg,#e2962a 60deg,#df7a1d 75deg,#de7119 90deg,#df7a1d 105deg,#e2962a 120deg,#d7b631 135deg,#bed033 150deg,#97de2c 165deg,#4ad863 180deg,#24c698 195deg,#1cb4bc 210deg,#2c9fce 225deg,#398fdc 240deg,#377ede 255deg,#3578de 270deg,#377ede 285deg,#398fdc 300deg,#2c9fce 315deg,#1cb4bc 330deg,#24c698 345deg,#4ad863 360deg)"></div><div style="position:absolute;left:292.30px;top:68.20px;width:42.40px;height:42.40px;border-radius:50%;background:conic-gradient(#4ad863 0deg,#96de2d 15deg,#bcd132 30deg,#d6b732 45deg,#e1992b 60deg,#e08020 75deg,#de771c 90deg,#e08020 105deg,#e1992b 120deg,#d6b732 135deg,#bcd132 150deg,#96de2d 165deg,#4ad863 180deg,#24c699 195deg,#1db3bd 210deg,#2e9ecf 225deg,#3a8ede 240deg,#357ade 255deg,#3473df 270deg,#357ade 285deg,#3a8ede 300deg,#2e9ecf 315deg,#1db3bd 330deg,#24c699 345deg,#4ad863 360deg)"></div><div style="position:absolute;left:293.30px;top:69.20px;width:40.40px;height:40.40px;border-radius:50%;background:conic-gradient(#4ad863 0deg,#94de2e 15deg,#bad232 30deg,#d4bb32 45deg,#e09e2c 60deg,#e18723 75deg,#df7d1f 90deg,#e18723 105deg,#e09e2c 120deg,#d4bb32 135deg,#bad232 150deg,#94de2e 165deg,#4ad863 180deg,#24c69a 195deg,#1fb1be 210deg,#2f9cd1 225deg,#3a8ade 240deg,#3575df 255deg,#336edf 270deg,#3575df 285deg,#3a8ade 300deg,#2f9cd1 315deg,#1fb1be 330deg,#24c69a 345deg,#4ad863 360deg)"></div><div style="position:absolute;left:294.30px;top:70.20px;width:38.40px;height:38.40px;border-radius:50%;background:conic-gradient(#4ad863 0deg,#91de30 15deg,#b8d332 30deg,#d1be32 45deg,#dea42d 60deg,#e28f27 75deg,#e18623 90deg,#e28f27 105deg,#dea42d 120deg,#d1be32 135deg,#b8d332 150deg,#91de30 165deg,#4ad863 180deg,#24c69a 195deg,#1eb1be 210deg,#2f9cd1 225deg,#3a8ade 240deg,#3575df 255deg,#336edf 270deg,#3575df 285deg,#3a8ade 300deg,#2f9cd1 315deg,#1eb1be 330deg,#24c69a 345deg,#4ad863 360deg)"></div><div style="position:absolute;left:295.30px;top:71.20px;width:36.40px;height:36.40px;border-radius:50%;background:conic-gradient(#4ad863 0deg,#8ede33 15deg,#b6d431 30deg,#cec233 45deg,#dda92e 60deg,#e2972a 75deg,#e28f27 90deg,#e2972a 105deg,#dda92e 120deg,#cec233 135deg,#b6d431 150deg,#8ede33 165deg,#4ad863 180deg,#24c797 195deg,#1cb5ba 210deg,#2ca0cd 225deg,#3791da 240deg,#3883de 255deg,#367dde 270deg,#3883de 285deg,#3791da 300deg,#2ca0cd 315deg,#1cb5ba 330deg,#24c797 345deg,#4ad863 360deg)"></div><div style="position:absolute;left:296.30px;top:72.20px;width:34.40px;height:34.40px;border-radius:50%;background:conic-gradient(#4ad863 0deg,#8cde35 15deg,#b4d531 30deg,#ccc633 45deg,#dbae30 60deg,#e09e2c 75deg,#e2972a 90deg,#e09e2c 105deg,#dbae30 120deg,#ccc633 135deg,#b4d531 150deg,#8cde35 165deg,#4ad863 180deg,#25c895 195deg,#1cb8b6 210deg,#28a6c8 225deg,#3397d5 240deg,#3a8edd 255deg,#3a8ade 270deg,#3a8edd 285deg,#3397d5 300deg,#28a6c8 315deg,#1cb8b6 330deg,#25c895 345deg,#4ad863 360deg)"></div><div style="position:absolute;left:297.30px;top:73.20px;width:32.40px;height:32.40px;border-radius:50%;background:conic-gradient(#4ad863 0deg,#88de36 15deg,#b1d631 30deg,#c9c934 45deg,#d9b431 60deg,#dea42d 75deg,#e09e2c 90deg,#dea42d 105deg,#d9b431 120deg,#c9c934 135deg,#b1d631 150deg,#88de36 165deg,#4ad863 180deg,#26ca91 195deg,#1dbab1 210deg,#24aac4 225deg,#2e9dd0 240deg,#3595d7 255deg,#3692da 270deg,#3595d7 285deg,#2e9dd0 300deg,#24aac4 315deg,#1dbab1 330deg,#26ca91 345deg,#4ad863 360deg)"></div><div style="position:absolute;left:298.30px;top:74.20px;width:30.40px;height:30.40px;border-radius:50%;background:conic-gradient(#4ad863 0deg,#86de38 15deg,#aed630 30deg,#c6cc34 45deg,#d6b832 60deg,#ddaa2f 75deg,#dea52d 90deg,#ddaa2f 105deg,#d6b832 120deg,#c6cc34 135deg,#aed630 150deg,#86de38 165deg,#4ad863 180deg,#27cb8e 195deg,#1ebdac 210deg,#20afbf 225deg,#2aa3cb 240deg,#2f9bd1 255deg,#3299d4 270deg,#2f9bd1 285deg,#2aa3cb 300deg,#20afbf 315deg,#1ebdac 330deg,#27cb8e 345deg,#4ad863 360deg)"></div><div style="position:absolute;left:299.30px;top:75.20px;width:28.40px;height:28.40px;border-radius:50%;background:conic-gradient(#4ad863 0deg,#82de3b 15deg,#abd830 30deg,#c2ce33 45deg,#d1bf33 60deg,#d9b331 75deg,#dbae30 90deg,#d9b331 105deg,#d1bf33 120deg,#c2ce33 135deg,#abd830 150deg,#82de3b 165deg,#4ad863 180deg,#28cd8b 195deg,#21c0a6 210deg,#1cb6ba 225deg,#24aac4 240deg,#2aa3ca 255deg,#2ca1cd 270deg,#2aa3ca 285deg,#24aac4 300deg,#1cb6ba 315deg,#21c0a6 330deg,#28cd8b 345deg,#4ad863 360deg)"></div><div style="position:absolute;left:300.30px;top:76.20px;width:26.40px;height:26.40px;border-radius:50%;background:conic-gradient(#4ad863 0deg,#7bdd3f 15deg,#a4da2e 30deg,#bad232 45deg,#c9ca34 60deg,#d0bf33 75deg,#d3bc32 90deg,#d0bf33 105deg,#c9ca34 120deg,#bad232 135deg,#a4da2e 150deg,#7bdd3f 165deg,#4ad863 180deg,#2acf86 195deg,#23c59d 210deg,#1dbcae 225deg,#1cb5bb 240deg,#21aec0 255deg,#23adc2 270deg,#21aec0 285deg,#1cb5bb 300deg,#1dbcae 315deg,#23c59d 330deg,#2acf86 345deg,#4ad863 360deg)"></div><div style="position:absolute;left:301.30px;top:77.20px;width:24.40px;height:24.40px;border-radius:50%;background:conic-gradient(#4ad863 0deg,#74dd44 15deg,#9edd2d 30deg,#b2d631 45deg,#bfcf33 60deg,#c7cb34 75deg,#cac834 90deg,#c7cb34 105deg,#bfcf33 120deg,#b2d631 135deg,#9edd2d 150deg,#74dd44 165deg,#4ad863 180deg,#2cd281 195deg,#25c994 210deg,#22c1a2 225deg,#1ebcae 240deg,#1cb9b5 255deg,#1cb7b6 270deg,#1cb9b5 285deg,#1ebcae 300deg,#22c1a2 315deg,#25c994 330deg,#2cd281 345deg,#4ad863 360deg)"></div><div style="position:absolute;left:302.30px;top:78.20px;width:22.40px;height:22.40px;border-radius:50%;background:conic-gradient(#4ad863 0deg,#6ddc48 15deg,#96de2d 30deg,#a8d92f 45deg,#b5d431 60deg,#bdd032 75deg,#becf33 90deg,#bdd032 105deg,#b5d431 120deg,#a8d92f 135deg,#96de2d 150deg,#6ddc48 165deg,#4ad863 180deg,#2dd47c 195deg,#28cd8a 210deg,#25c796 225deg,#23c39e 240deg,#21c0a5 255deg,#20bfa6 270deg,#21c0a5 285deg,#23c39e 300deg,#25c796 315deg,#28cd8a 330deg,#2dd47c 345deg,#4ad863 360deg)"></div><div style="position:absolute;left:303.30px;top:79.20px;width:20.40px;height:20.40px;border-radius:50%;background:conic-gradient(#4ad863 0deg,#66dc4d 15deg,#88de36 30deg,#9edc2d 45deg,#aad82f 60deg,#b1d631 75deg,#b3d531 90deg,#b1d631 105deg,#aad82f 120deg,#9edc2d 135deg,#88de36 150deg,#66dc4d 165deg,#4ad863 180deg,#35d575 195deg,#2bd181 210deg,#29ce8a 225deg,#27ca90 240deg,#25c894 255deg,#25c896 270deg,#25c894 285deg,#27ca90 300deg,#29ce8a 315deg,#2bd181 330deg,#35d575 345deg,#4ad863 360deg)"></div><div style="position:absolute;left:304.00px;top:80.20px;width:18.40px;height:18.40px;border-radius:50%;background:conic-gradient(#4ad863 0deg,#a8d92f 15deg,#d6b632 30deg,#de751b 45deg,#d1450c 60deg,#c6320b 75deg,#c32c0a 90deg,#c6320b 105deg,#d1450c 120deg,#de751b 135deg,#d6b632 150deg,#a8d92f 165deg,#4ad863 180deg,#23c49d 195deg,#21aec1 210deg,#3396d6 225deg,#377ede 240deg,#3168df 255deg,#2f61df 270deg,#3168df 285deg,#377ede 300deg,#3396d6 315deg,#21aec1 330deg,#23c49d 345deg,#4ad863 360deg)"></div><div style="position:absolute;left:305.00px;top:81.20px;width:16.40px;height:16.40px;border-radius:50%;background:conic-gradient(#4ad863 0deg,#abd830 15deg,#dab231 30deg,#dd6a16 45deg,#ce3f0c 60deg,#c32a0a 75deg,#bf2409 90deg,#c32a0a 105deg,#ce3f0c 120deg,#dd6a16 135deg,#dab231 150deg,#abd830 165deg,#4ad863 180deg,#22c2a2 195deg,#26a7c6 210deg,#3a8ede 225deg,#3169df 240deg,#2b51df 255deg,#2849e0 270deg,#2b51df 285deg,#3169df 300deg,#3a8ede 315deg,#26a7c6 330deg,#22c2a2 345deg,#4ad863 360deg)"></div><div style="position:absolute;left:306.00px;top:82.20px;width:14.40px;height:14.40px;border-radius:50%;background:conic-gradient(#4ad863 0deg,#a6da2f 15deg,#d2bd32 30deg,#e08422 45deg,#d6500f 60deg,#cc3d0c 75deg,#c9360b 90deg,#cc3d0c 105deg,#d6500f 120deg,#e08422 135deg,#d2bd32 150deg,#a6da2f 165deg,#4ad863 180deg,#20bfa7 195deg,#2ba1cc 210deg,#367dde 225deg,#2c54df 240deg,#2439e0 255deg,#2133e0 270deg,#2439e0 285deg,#2c54df 300deg,#367dde 315deg,#2ba1cc 330deg,#20bfa7 345deg,#4ad863 360deg)"></div><div style="position:absolute;left:307.00px;top:83.20px;width:12.40px;height:12.40px;border-radius:50%;background:conic-gradient(#4ad863 0deg,#9edd2d 15deg,#c7cb34 30deg,#dea22c 45deg,#de751b 60deg,#d85a12 75deg,#d6510f 90deg,#d85a12 105deg,#de751b 120deg,#dea22c 135deg,#c7cb34 150deg,#9edd2d 165deg,#4ad863 180deg,#20bfa7 195deg,#2ca0cd 210deg,#367dde 225deg,#2b52df 240deg,#2437e0 255deg,#2032e0 270deg,#2437e0 285deg,#2b52df 300deg,#367dde 315deg,#2ca0cd 330deg,#20bfa7 345deg,#4ad863 360deg)"></div><div style="position:absolute;left:308.00px;top:84.20px;width:10.40px;height:10.40px;border-radius:50%;background:conic-gradient(#4ad863 0deg,#94de2e 15deg,#bad132 30deg,#d4ba32 45deg,#e09e2c 60deg,#e18623 75deg,#df7d1e 90deg,#e18623 105deg,#e09e2c 120deg,#d4ba32 135deg,#bad132 150deg,#94de2e 165deg,#4ad863 180deg,#23c49d 195deg,#21aec1 210deg,#3397d6 225deg,#377ede 240deg,#3169df 255deg,#2f62df 270deg,#3169df 285deg,#377ede 300deg,#3397d6 315deg,#21aec1 330deg,#23c49d 345deg,#4ad863 360deg)"></div><div style="position:absolute;left:309.00px;top:85.20px;width:8.40px;height:8.40px;border-radius:50%;background:conic-gradient(#4ad863 0deg,#84de39 15deg,#add730 30deg,#c4cd33 45deg,#d3bc32 60deg,#dbae30 75deg,#dda92e 90deg,#dbae30 105deg,#d3bc32 120deg,#c4cd33 135deg,#add730 150deg,#84de39 165deg,#4ad863 180deg,#26c992 195deg,#1cbab2 210deg,#24a9c5 225deg,#2f9cd1 240deg,#3594d8 255deg,#3890db 270deg,#3594d8 285deg,#2f9cd1 300deg,#24a9c5 315deg,#1cbab2 330deg,#26c992 345deg,#4ad863 360deg)"></div><div style="position:absolute;left:310.00px;top:86.20px;width:6.40px;height:6.40px;border-radius:50%;background:conic-gradient(#4ad863 0deg,#73dc44 15deg,#9ddd2d 30deg,#b0d631 45deg,#bed033 60deg,#c6cc34 75deg,#c8ca34 90deg,#c6cc34 105deg,#bed033 120deg,#b0d631 135deg,#9ddd2d 150deg,#73dc44 165deg,#4ad863 180deg,#29ce87 195deg,#23c39e 210deg,#1cbab2 225deg,#1eb2be 240deg,#23acc3 255deg,#24a9c5 270deg,#23acc3 285deg,#1eb2be 300deg,#1cbab2 315deg,#23c39e 330deg,#29ce87 345deg,#4ad863 360deg)"></div><div style="position:absolute;left:311.00px;top:87.20px;width:4.40px;height:4.40px;border-radius:50%;background:conic-gradient(#4ad863 0deg,#63db4e 15deg,#80dd3c 30deg,#99de2c 45deg,#a3db2e 60deg,#a9d82f 75deg,#acd730 90deg,#a9d82f 105deg,#a3db2e 120deg,#99de2c 135deg,#80dd3c 150deg,#63db4e 165deg,#4ad863 180deg,#2cd47d 195deg,#28cd8c 210deg,#24c697 225deg,#22c2a0 240deg,#20bfa6 255deg,#20bea8 270deg,#20bfa6 285deg,#22c2a0 300deg,#24c697 315deg,#28cd8c 330deg,#2cd47d 345deg,#4ad863 360deg)"></div><div style="position:absolute;left:312.00px;top:88.20px;width:2.40px;height:2.40px;border-radius:50%;background:conic-gradient(#4ad863 0deg,#54d95b 15deg,#5edb51 30deg,#69dc4a 45deg,#72dc45 60deg,#77dd41 75deg,#7add40 90deg,#77dd41 105deg,#72dc45 120deg,#69dc4a 135deg,#5edb51 150deg,#54d95b 165deg,#4ad863 180deg,#3dd66d 195deg,#34d576 210deg,#2cd47d 225deg,#2cd281 240deg,#2bd183 255deg,#2bd084 270deg,#2bd183 285deg,#2cd281 300deg,#2cd47d 315deg,#34d576 330deg,#3dd66d 345deg,#4ad863 360deg)"></div><div style="position:absolute;left:313.00px;top:89.20px;width:0.40px;height:0.40px;border-radius:50%;background:conic-gradient(#4ad863 0deg,#4ad863 15deg,#4ad863 30deg,#4ad863 45deg,#4ad863 60deg,#4ad863 75deg,#4ad863 90deg,#4ad863 105deg,#4ad863 120deg,#4ad863 135deg,#4ad863 150deg,#4ad863 165deg,#4ad863 180deg,#4ad863 195deg,#4ad863 210deg,#4ad863 225deg,#4ad863 240deg,#4ad863 255deg,#4ad863 270deg,#4ad863 285deg,#4ad863 300deg,#4ad863 315deg,#4ad863 330deg,#4ad863 345deg,#4ad863 360deg)"></div><div style="position:absolute;left:358.60px;top:56.20px;width:66.40px;height:66.40px;border-radius:50%;background:conic-gradient(#4ad863 0deg,#72dc45 15deg,#9bde2d 30deg,#aed630 45deg,#bcd132 60deg,#c4cd33 75deg,#c6cc34 90deg,#c4cd33 105deg,#bcd132 120deg,#aed630 135deg,#9bde2d 150deg,#72dc45 165deg,#4ad863 180deg,#45d768 195deg,#40d66c 210deg,#3cd66f 225deg,#39d672 240deg,#37d673 255deg,#37d674 270deg,#37d673 285deg,#39d672 300deg,#3cd66f 315deg,#40d66c 330deg,#45d768 345deg,#4ad863 360deg)"></div><div style="position:absolute;left:359.60px;top:57.20px;width:64.40px;height:64.40px;border-radius:50%;background:conic-gradient(#4ad863 0deg,#81dd3b 15deg,#aad830 30deg,#c1ce33 45deg,#d0c033 60deg,#d9b431 75deg,#dbae30 90deg,#d9b431 105deg,#d0c033 120deg,#c1ce33 135deg,#aad830 150deg,#81dd3b 165deg,#4ad863 180deg,#3fd66d 195deg,#36d674 210deg,#2fd47a 225deg,#2cd37e 240deg,#2cd280 255deg,#2cd281 270deg,#2cd280 285deg,#2cd37e 300deg,#2fd47a 315deg,#36d674 330deg,#3fd66d 345deg,#4ad863 360deg)"></div><div style="position:absolute;left:360.60px;top:58.20px;width:62.40px;height:62.40px;border-radius:50%;background:conic-gradient(#4ad863 0deg,#8dde34 15deg,#b5d531 30deg,#cec433 45deg,#dcac2f 60deg,#e19a2b 75deg,#e39529 90deg,#e19a2b 105deg,#dcac2f 120deg,#cec433 135deg,#b5d531 150deg,#8dde34 165deg,#4ad863 180deg,#3ad671 195deg,#2cd47d 210deg,#2bd183 225deg,#29ce88 240deg,#28cd8b 255deg,#28cd8c 270deg,#28cd8b 285deg,#29ce88 300deg,#2bd183 315deg,#2cd47d 330deg,#3ad671 345deg,#4ad863 360deg)"></div><div style="position:absolute;left:361.60px;top:59.20px;width:60.40px;height:60.40px;border-radius:50%;background:conic-gradient(#4ad863 0deg,#95de2e 15deg,#bbd132 30deg,#d5b932 45deg,#e09c2c 60deg,#e08522 75deg,#df7b1d 90deg,#e08522 105deg,#e09c2c 120deg,#d5b932 135deg,#bbd132 150deg,#95de2e 165deg,#4ad863 180deg,#35d575 195deg,#2bd182 210deg,#28cd8b 225deg,#26ca91 240deg,#25c895 255deg,#25c796 270deg,#25c895 285deg,#26ca91 300deg,#28cd8b 315deg,#2bd182 330deg,#35d575 345deg,#4ad863 360deg)"></div><div style="position:absolute;left:362.60px;top:60.20px;width:58.40px;height:58.40px;border-radius:50%;background:conic-gradient(#4ad863 0deg,#95de2e 15deg,#bbd132 30deg,#d5b932 45deg,#e09c2c 60deg,#e08522 75deg,#df7b1d 90deg,#e08522 105deg,#e09c2c 120deg,#d5b932 135deg,#bbd132 150deg,#95de2e 165deg,#4ad863 180deg,#31d579 195deg,#2acf86 210deg,#26ca91 225deg,#24c698 240deg,#23c49d 255deg,#23c39e 270deg,#23c49d 285deg,#24c698 300deg,#26ca91 315deg,#2acf86 330deg,#31d579 345deg,#4ad863 360deg)"></div><div style="position:absolute;left:363.60px;top:61.20px;width:56.40px;height:56.40px;border-radius:50%;background:conic-gradient(#4ad863 0deg,#95de2e 15deg,#bbd132 30deg,#d5b932 45deg,#e09c2c 60deg,#e08522 75deg,#df7b1d 90deg,#e08522 105deg,#e09c2c 120deg,#d5b932 135deg,#bbd132 150deg,#95de2e 165deg,#4ad863 180deg,#2cd47d 195deg,#28cd8b 210deg,#24c796 225deg,#22c39f 240deg,#21c0a6 255deg,#20bfa7 270deg,#21c0a6 285deg,#22c39f 300deg,#24c796 315deg,#28cd8b 330deg,#2cd47d 345deg,#4ad863 360deg)"></div><div style="position:absolute;left:364.60px;top:62.20px;width:54.40px;height:54.40px;border-radius:50%;background:conic-gradient(#4ad863 0deg,#95de2e 15deg,#bbd132 30deg,#d5b932 45deg,#e09c2c 60deg,#e08522 75deg,#df7b1d 90deg,#e08522 105deg,#e09c2c 120deg,#d5b932 135deg,#bbd132 150deg,#95de2e 165deg,#4ad863 180deg,#2cd37f 195deg,#27cb8f 210deg,#23c49d 225deg,#20bfa7 240deg,#1ebcae 255deg,#1dbbaf 270deg,#1ebcae 285deg,#20bfa7 300deg,#23c49d 315deg,#27cb8f 330deg,#2cd37f 345deg,#4ad863 360deg)"></div><div style="position:absolute;left:365.60px;top:63.20px;width:52.40px;height:52.40px;border-radius:50%;background:conic-gradient(#4ad863 0deg,#94de2e 15deg,#bad132 30deg,#d4ba32 45deg,#e09e2c 60deg,#e18623 75deg,#df7d1e 90deg,#e18623 105deg,#e09e2c 120deg,#d4ba32 135deg,#bad132 150deg,#94de2e 165deg,#4ad863 180deg,#2bd181 195deg,#25c894 210deg,#21c1a3 225deg,#1dbcae 240deg,#1cb8b6 255deg,#1bb7b8 270deg,#1cb8b6 285deg,#1dbcae 300deg,#21c1a3 315deg,#25c894 330deg,#2bd181 345deg,#4ad863 360deg)"></div><div style="position:absolute;left:366.60px;top:64.20px;width:50.40px;height:50.40px;border-radius:50%;background:conic-gradient(#4ad863 0deg,#92de30 15deg,#b8d232 30deg,#d2be32 45deg,#dea22c 60deg,#e28d25 75deg,#e08422 90deg,#e28d25 105deg,#dea22c 120deg,#d2be32 135deg,#b8d232 150deg,#92de30 165deg,#4ad863 180deg,#2bd084 195deg,#24c697 210deg,#20bea8 225deg,#1cb8b5 240deg,#1cb5bb 255deg,#1db3bd 270deg,#1cb5bb 285deg,#1cb8b5 300deg,#20bea8 315deg,#24c697 330deg,#2bd084 345deg,#4ad863 360deg)"></div><div style="position:absolute;left:367.60px;top:65.20px;width:48.40px;height:48.40px;border-radius:50%;background:conic-gradient(#4ad863 0deg,#90de31 15deg,#b7d332 30deg,#d0c033 45deg,#dea62d 60deg,#e39429 75deg,#e18b24 90deg,#e39429 105deg,#dea62d 120deg,#d0c033 135deg,#b7d332 150deg,#90de31 165deg,#4ad863 180deg,#2ad085 195deg,#24c699 210deg,#1fbeab 225deg,#1cb7b7 240deg,#1eb2bd 255deg,#1fb0be 270deg,#1eb2bd 285deg,#1cb7b7 300deg,#1fbeab 315deg,#24c699 330deg,#2ad085 345deg,#4ad863 360deg)"></div><div style="position:absolute;left:368.60px;top:66.20px;width:46.40px;height:46.40px;border-radius:50%;background:conic-gradient(#4ad863 0deg,#8ede33 15deg,#b6d431 30deg,#cec333 45deg,#ddaa2f 60deg,#e1982a 75deg,#e39228 90deg,#e1982a 105deg,#ddaa2f 120deg,#cec333 135deg,#b6d431 150deg,#8ede33 165deg,#4ad863 180deg,#2acf86 195deg,#24c59b 210deg,#1ebdad 225deg,#1bb6ba 240deg,#1fb0be 255deg,#21aec0 270deg,#1fb0be 285deg,#1bb6ba 300deg,#1ebdad 315deg,#24c59b 330deg,#2acf86 345deg,#4ad863 360deg)"></div><div style="position:absolute;left:369.60px;top:67.20px;width:44.40px;height:44.40px;border-radius:50%;background:conic-gradient(#4ad863 0deg,#8cde35 15deg,#b4d531 30deg,#ccc633 45deg,#dbae30 60deg,#e09e2c 75deg,#e2972a 90deg,#e09e2c 105deg,#dbae30 120deg,#ccc633 135deg,#b4d531 150deg,#8cde35 165deg,#4ad863 180deg,#2acf86 195deg,#23c59d 210deg,#1dbcaf 225deg,#1cb4bb 240deg,#21aec0 255deg,#23acc2 270deg,#21aec0 285deg,#1cb4bb 300deg,#1dbcaf 315deg,#23c59d 330deg,#2acf86 345deg,#4ad863 360deg)"></div><div style="position:absolute;left:370.60px;top:68.20px;width:42.40px;height:42.40px;border-radius:50%;background:conic-gradient(#4ad863 0deg,#89de35 15deg,#b2d631 30deg,#cac834 45deg,#d9b331 60deg,#dea22c 75deg,#e09d2c 90deg,#dea22c 105deg,#d9b331 120deg,#cac834 135deg,#b2d631 150deg,#89de35 165deg,#4ad863 180deg,#2ace87 195deg,#23c49e 210deg,#1dbab1 225deg,#1eb2bd 240deg,#23acc2 255deg,#24aac4 270deg,#23acc2 285deg,#1eb2bd 300deg,#1dbab1 315deg,#23c49e 330deg,#2ace87 345deg,#4ad863 360deg)"></div><div style="position:absolute;left:371.60px;top:69.20px;width:40.40px;height:40.40px;border-radius:50%;background:conic-gradient(#4ad863 0deg,#87de37 15deg,#afd631 30deg,#c7cb34 45deg,#d6b632 60deg,#dea72e 75deg,#dea22c 90deg,#dea72e 105deg,#d6b632 120deg,#c7cb34 135deg,#afd631 150deg,#87de37 165deg,#4ad863 180deg,#29ce88 195deg,#22c3a0 210deg,#1cb9b3 225deg,#1fb0be 240deg,#24aac4 255deg,#25a8c6 270deg,#24aac4 285deg,#1fb0be 300deg,#1cb9b3 315deg,#22c3a0 330deg,#29ce88 345deg,#4ad863 360deg)"></div><div style="position:absolute;left:372.60px;top:70.20px;width:38.40px;height:38.40px;border-radius:50%;background:conic-gradient(#4ad863 0deg,#85de39 15deg,#add730 30deg,#c5cd34 45deg,#d4bb32 60deg,#dcad30 75deg,#dda72e 90deg,#dcad30 105deg,#d4bb32 120deg,#c5cd34 135deg,#add730 150deg,#85de39 165deg,#4ad863 180deg,#29ce88 195deg,#22c3a0 210deg,#1cb9b3 225deg,#1fb0be 240deg,#24aac4 255deg,#25a8c6 270deg,#24aac4 285deg,#1fb0be 300deg,#1cb9b3 315deg,#22c3a0 330deg,#29ce88 345deg,#4ad863 360deg)"></div><div style="position:absolute;left:373.60px;top:71.20px;width:36.40px;height:36.40px;border-radius:50%;background:conic-gradient(#4ad863 0deg,#82de3b 15deg,#abd830 30deg,#c2ce33 45deg,#d1bf33 60deg,#d9b331 75deg,#dbae30 90deg,#d9b331 105deg,#d1bf33 120deg,#c2ce33 135deg,#abd830 150deg,#82de3b 165deg,#4ad863 180deg,#2acf86 195deg,#24c59c 210deg,#1ebcae 225deg,#1cb5bb 240deg,#20afbf 255deg,#22adc1 270deg,#20afbf 285deg,#1cb5bb 300deg,#1ebcae 315deg,#24c59c 330deg,#2acf86 345deg,#4ad863 360deg)"></div><div style="position:absolute;left:374.60px;top:72.20px;width:34.40px;height:34.40px;border-radius:50%;background:conic-gradient(#4ad863 0deg,#7fdd3d 15deg,#a8d92f 30deg,#becf33 45deg,#cec333 60deg,#d6b732 75deg,#d9b431 90deg,#d6b732 105deg,#cec333 120deg,#becf33 135deg,#a8d92f 150deg,#7fdd3d 165deg,#4ad863 180deg,#2bd084 195deg,#24c698 210deg,#1fbea8 225deg,#1cb8b5 240deg,#1cb4bc 255deg,#1eb2bd 270deg,#1cb4bc 285deg,#1cb8b5 300deg,#1fbea8 315deg,#24c698 330deg,#2bd084 345deg,#4ad863 360deg)"></div><div style="position:absolute;left:375.60px;top:73.20px;width:32.40px;height:32.40px;border-radius:50%;background:conic-gradient(#4ad863 0deg,#7ddd3d 15deg,#a6da2f 30deg,#bcd132 45deg,#cbc734 60deg,#d3bd32 75deg,#d6b832 90deg,#d3bd32 105deg,#cbc734 120deg,#bcd132 135deg,#a6da2f 150deg,#7ddd3d 165deg,#4ad863 180deg,#2bd181 195deg,#25c894 210deg,#21c1a4 225deg,#1dbcae 240deg,#1cb8b6 255deg,#1bb7b8 270deg,#1cb8b6 285deg,#1dbcae 300deg,#21c1a4 315deg,#25c894 330deg,#2bd181 345deg,#4ad863 360deg)"></div><div style="position:absolute;left:376.60px;top:74.20px;width:30.40px;height:30.40px;border-radius:50%;background:conic-gradient(#4ad863 0deg,#7add3f 15deg,#a3db2e 30deg,#b8d332 45deg,#c7cb34 60deg,#cfc133 75deg,#d2be32 90deg,#cfc133 105deg,#c7cb34 120deg,#b8d332 135deg,#a3db2e 150deg,#7add3f 165deg,#4ad863 180deg,#2cd37f 195deg,#27ca90 210deg,#23c49e 225deg,#20bea8 240deg,#1dbcae 255deg,#1dbab1 270deg,#1dbcae 285deg,#20bea8 300deg,#23c49e 315deg,#27ca90 330deg,#2cd37f 345deg,#4ad863 360deg)"></div><div style="position:absolute;left:377.60px;top:75.20px;width:28.40px;height:28.40px;border-radius:50%;background:conic-gradient(#4ad863 0deg,#76dd42 15deg,#9fdc2e 30deg,#b5d531 45deg,#c2ce33 60deg,#cbc734 75deg,#cec433 90deg,#cbc734 105deg,#c2ce33 120deg,#b5d531 135deg,#9fdc2e 150deg,#76dd42 165deg,#4ad863 180deg,#2cd47d 195deg,#28cd8c 210deg,#24c698 225deg,#22c2a1 240deg,#20bfa7 255deg,#1fbea9 270deg,#20bfa7 285deg,#22c2a1 300deg,#24c698 315deg,#28cd8c 330deg,#2cd47d 345deg,#4ad863 360deg)"></div><div style="position:absolute;left:378.60px;top:76.20px;width:26.40px;height:26.40px;border-radius:50%;background:conic-gradient(#4ad863 0deg,#71dc45 15deg,#9bde2d 30deg,#aed730 45deg,#bbd132 60deg,#c3ce33 75deg,#c6cd34 90deg,#c3ce33 105deg,#bbd132 120deg,#aed730 135deg,#9bde2d 150deg,#71dc45 165deg,#4ad863 180deg,#31d579 195deg,#2ace86 210deg,#26ca91 225deg,#24c699 240deg,#23c49e 255deg,#23c39f 270deg,#23c49e 285deg,#24c699 300deg,#26ca91 315deg,#2ace86 330deg,#31d579 345deg,#4ad863 360deg)"></div><div style="position:absolute;left:379.60px;top:77.20px;width:24.40px;height:24.40px;border-radius:50%;background:conic-gradient(#4ad863 0deg,#6cdc49 15deg,#94de2f 30deg,#a6d92f 45deg,#b3d631 60deg,#bad232 75deg,#bcd032 90deg,#bad232 105deg,#b3d631 120deg,#a6d92f 135deg,#94de2f 150deg,#6cdc49 165deg,#4ad863 180deg,#35d575 195deg,#2bd182 210deg,#29ce8a 225deg,#26ca90 240deg,#25c895 255deg,#25c796 270deg,#25c895 285deg,#26ca90 300deg,#29ce8a 315deg,#2bd182 330deg,#35d575 345deg,#4ad863 360deg)"></div><div style="position:absolute;left:380.60px;top:78.20px;width:22.40px;height:22.40px;border-radius:50%;background:conic-gradient(#4ad863 0deg,#66dc4d 15deg,#88de36 30deg,#9edc2d 45deg,#aad82f 60deg,#b1d631 75deg,#b3d531 90deg,#b1d631 105deg,#aad82f 120deg,#9edc2d 135deg,#88de36 150deg,#66dc4d 165deg,#4ad863 180deg,#3ad671 195deg,#2cd47d 210deg,#2bd083 225deg,#29ce88 240deg,#28cd8b 255deg,#28cd8c 270deg,#28cd8b 285deg,#29ce88 300deg,#2bd083 315deg,#2cd47d 330deg,#3ad671 345deg,#4ad863 360deg)"></div><div style="position:absolute;left:381.60px;top:79.20px;width:20.40px;height:20.40px;border-radius:50%;background:conic-gradient(#4ad863 0deg,#61db4f 15deg,#7ddd3d 30deg,#97de2c 45deg,#a0dc2e 60deg,#a6d92f 75deg,#a8d92f 90deg,#a6d92f 105deg,#a0dc2e 120deg,#97de2c 135deg,#7ddd3d 150deg,#61db4f 165deg,#4ad863 180deg,#3ed66d 195deg,#35d575 210deg,#2dd47c 225deg,#2cd27f 240deg,#2bd182 255deg,#2bd183 270deg,#2bd182 285deg,#2cd27f 300deg,#2dd47c 315deg,#35d575 330deg,#3ed66d 345deg,#4ad863 360deg)"></div><div style="position:absolute;left:382.60px;top:80.20px;width:18.40px;height:18.40px;border-radius:50%;background:conic-gradient(#4ad863 0deg,#a0dc2e 15deg,#cbc734 30deg,#e19a2b 45deg,#dc6815 60deg,#d54e0e 75deg,#d2480d 90deg,#d54e0e 105deg,#dc6815 120deg,#e19a2b 135deg,#cbc734 150deg,#a0dc2e 165deg,#4ad863 180deg,#27cb8f 195deg,#1ebdad 210deg,#21aec0 225deg,#2ba2cc 240deg,#309ad2 255deg,#3397d5 270deg,#309ad2 285deg,#2ba2cc 300deg,#21aec0 315deg,#1ebdad 330deg,#27cb8f 345deg,#4ad863 360deg)"></div><div style="position:absolute;left:383.60px;top:81.20px;width:16.40px;height:16.40px;border-radius:50%;background:conic-gradient(#4ad863 0deg,#a3db2e 15deg,#cfc133 30deg,#e28e26 45deg,#d85b12 60deg,#cf440c 75deg,#cd3d0c 90deg,#cf440c 105deg,#d85b12 120deg,#e28e26 135deg,#cfc133 150deg,#a3db2e 165deg,#4ad863 180deg,#26c993 195deg,#1cb9b3 210deg,#25a8c6 225deg,#309bd2 240deg,#3692da 255deg,#398fdc 270deg,#3692da 285deg,#309bd2 300deg,#25a8c6 315deg,#1cb9b3 330deg,#26c993 345deg,#4ad863 360deg)"></div><div style="position:absolute;left:384.60px;top:82.20px;width:14.40px;height:14.40px;border-radius:50%;background:conic-gradient(#4ad863 0deg,#9edc2d 15deg,#c8cb34 30deg,#df9f2c 45deg,#de7119 60deg,#d65610 75deg,#d54e0e 90deg,#d65610 105deg,#de7119 120deg,#df9f2c 135deg,#c8cb34 150deg,#9edc2d 165deg,#4ad863 180deg,#25c796 195deg,#1bb6b9 210deg,#2ba2cb 225deg,#3593d8 240deg,#3987de 255deg,#3781de 270deg,#3987de 285deg,#3593d8 300deg,#2ba2cb 315deg,#1bb6b9 330deg,#25c796 345deg,#4ad863 360deg)"></div><div style="position:absolute;left:385.60px;top:83.20px;width:12.40px;height:12.40px;border-radius:50%;background:conic-gradient(#4ad863 0deg,#97de2c 15deg,#bed033 30deg,#d7b631 45deg,#e2962a 60deg,#df7b1d 75deg,#de721a 90deg,#df7b1d 105deg,#e2962a 120deg,#d7b631 135deg,#bed033 150deg,#97de2c 165deg,#4ad863 180deg,#24c796 195deg,#1bb6ba 210deg,#2ba2cc 225deg,#3693d9 240deg,#3986de 255deg,#3780de 270deg,#3986de 285deg,#3693d9 300deg,#2ba2cc 315deg,#1bb6ba 330deg,#24c796 345deg,#4ad863 360deg)"></div><div style="position:absolute;left:386.60px;top:84.20px;width:10.40px;height:10.40px;border-radius:50%;background:conic-gradient(#4ad863 0deg,#8ade35 15deg,#b2d631 30deg,#cac834 45deg,#dab231 60deg,#dea12c 75deg,#e09c2b 90deg,#dea12c 105deg,#dab231 120deg,#cac834 135deg,#b2d631 150deg,#8ade35 165deg,#4ad863 180deg,#27cb8e 195deg,#1ebdac 210deg,#20afc0 225deg,#2aa3cb 240deg,#309bd2 255deg,#3298d4 270deg,#309bd2 285deg,#2aa3cb 300deg,#20afc0 315deg,#1ebdac 330deg,#27cb8e 345deg,#4ad863 360deg)"></div><div style="position:absolute;left:387.60px;top:85.20px;width:8.40px;height:8.40px;border-radius:50%;background:conic-gradient(#4ad863 0deg,#7bdd3e 15deg,#a5da2e 30deg,#bad232 45deg,#c9ca34 60deg,#d1be33 75deg,#d4bb32 90deg,#d1be33 105deg,#c9ca34 120deg,#bad232 135deg,#a5da2e 150deg,#7bdd3e 165deg,#4ad863 180deg,#2ace87 195deg,#23c49e 210deg,#1dbab1 225deg,#1eb2bd 240deg,#23adc2 255deg,#24aac4 270deg,#23adc2 285deg,#1eb2bd 300deg,#1dbab1 315deg,#23c49e 330deg,#2ace87 345deg,#4ad863 360deg)"></div><div style="position:absolute;left:388.60px;top:86.20px;width:6.40px;height:6.40px;border-radius:50%;background:conic-gradient(#4ad863 0deg,#6ddc48 15deg,#96de2d 30deg,#a7d92f 45deg,#b5d531 60deg,#bcd132 75deg,#becf33 90deg,#bcd132 105deg,#b5d531 120deg,#a7d92f 135deg,#96de2d 150deg,#6ddc48 165deg,#4ad863 180deg,#2cd37f 195deg,#27ca90 210deg,#23c49e 225deg,#20bea8 240deg,#1dbcae 255deg,#1dbbb1 270deg,#1dbcae 285deg,#20bea8 300deg,#23c49e 315deg,#27ca90 330deg,#2cd37f 345deg,#4ad863 360deg)"></div><div style="position:absolute;left:389.60px;top:87.20px;width:4.40px;height:4.40px;border-radius:50%;background:conic-gradient(#4ad863 0deg,#5edb51 15deg,#78dd40 30deg,#90de31 45deg,#9ddd2d 60deg,#a2db2e 75deg,#a4da2e 90deg,#a2db2e 105deg,#9ddd2d 120deg,#90de31 135deg,#78dd40 150deg,#5edb51 165deg,#4ad863 180deg,#35d575 195deg,#2bd182 210deg,#28cd8b 225deg,#26ca91 240deg,#25c896 255deg,#24c796 270deg,#25c896 285deg,#26ca91 300deg,#28cd8b 315deg,#2bd182 330deg,#35d575 345deg,#4ad863 360deg)"></div><div style="position:absolute;left:390.60px;top:88.20px;width:2.40px;height:2.40px;border-radius:50%;background:conic-gradient(#4ad863 0deg,#53d95c 15deg,#5cdb54 30deg,#65db4d 45deg,#6cdc48 60deg,#71dc45 75deg,#73dc45 90deg,#71dc45 105deg,#6cdc48 120deg,#65db4d 135deg,#5cdb54 150deg,#53d95c 165deg,#4ad863 180deg,#41d66b 195deg,#3ad671 210deg,#35d575 225deg,#30d57a 240deg,#2dd47c 255deg,#2cd47d 270deg,#2dd47c 285deg,#30d57a 300deg,#35d575 315deg,#3ad671 330deg,#41d66b 345deg,#4ad863 360deg)"></div><div style="position:absolute;left:391.60px;top:89.20px;width:0.40px;height:0.40px;border-radius:50%;background:conic-gradient(#4ad863 0deg,#4ad863 15deg,#4ad863 30deg,#4ad863 45deg,#4ad863 60deg,#4ad863 75deg,#4ad863 90deg,#4ad863 105deg,#4ad863 120deg,#4ad863 135deg,#4ad863 150deg,#4ad863 165deg,#4ad863 180deg,#4ad863 195deg,#4ad863 210deg,#4ad863 225deg,#4ad863 240deg,#4ad863 255deg,#4ad863 270deg,#4ad863 285deg,#4ad863 300deg,#4ad863 315deg,#4ad863 330deg,#4ad863 345deg,#4ad863 360deg)"></div><svg width="550" height="418" viewBox="0 0 550 418" style="position:absolute;left:0;top:0">
<defs><linearGradient id="cb" x1="0" x2="1" y1="0" y2="0"><stop offset="0" stop-color="#0000ff"/><stop offset="0.1" stop-color="#283efc"/><stop offset="0.2" stop-color="#429efa"/><stop offset="0.3" stop-color="#1ecdd0"/><stop offset="0.4" stop-color="#32ee8c"/><stop offset="0.45" stop-color="#69f65c"/><stop offset="0.5" stop-color="#aafa32"/><stop offset="0.55" stop-color="#c8f037"/><stop offset="0.6" stop-color="#e1e43a"/><stop offset="0.65" stop-color="#f5c837"/><stop offset="0.7" stop-color="#ffa62e"/><stop offset="0.75" stop-color="#f87819"/><stop offset="0.8" stop-color="#ee550f"/><stop offset="0.9" stop-color="#d7280a"/><stop offset="1" stop-color="#c80000"/></linearGradient>
</defs>
<rect x="118.5" y="15.3" width="311.5" height="18.5" fill="url(#cb)"/>
<text x="123.4" y="9.4" style="font-family:'Liberation Sans',Arial,sans-serif;font-size:8.5px" fill="#111">Tangential velocity</text>
<text x="394.7" y="9.4" style="font-family:'Liberation Sans',Arial,sans-serif;font-size:8.5px" fill="#111">[m / s]</text>
<text x="118.7" y="49.5" text-anchor="middle" style="font-family:'Liberation Sans',Arial,sans-serif;font-size:7.8px" fill="#111">−19.55</text>
<text x="149.9" y="49.5" text-anchor="middle" style="font-family:'Liberation Sans',Arial,sans-serif;font-size:7.8px" fill="#111">−15.64</text>
<text x="181.1" y="49.5" text-anchor="middle" style="font-family:'Liberation Sans',Arial,sans-serif;font-size:7.8px" fill="#111">−11.73</text>
<text x="212.3" y="49.5" text-anchor="middle" style="font-family:'Liberation Sans',Arial,sans-serif;font-size:7.8px" fill="#111">−7.82</text>
<text x="243.5" y="49.5" text-anchor="middle" style="font-family:'Liberation Sans',Arial,sans-serif;font-size:7.8px" fill="#111">−3.91</text>
<text x="274.7" y="49.5" text-anchor="middle" style="font-family:'Liberation Sans',Arial,sans-serif;font-size:7.8px" fill="#111">0.00</text>
<text x="305.9" y="49.5" text-anchor="middle" style="font-family:'Liberation Sans',Arial,sans-serif;font-size:7.8px" fill="#111">3.92</text>
<text x="337.1" y="49.5" text-anchor="middle" style="font-family:'Liberation Sans',Arial,sans-serif;font-size:7.8px" fill="#111">7.83</text>
<text x="368.3" y="49.5" text-anchor="middle" style="font-family:'Liberation Sans',Arial,sans-serif;font-size:7.8px" fill="#111">11.74</text>
<text x="399.5" y="49.5" text-anchor="middle" style="font-family:'Liberation Sans',Arial,sans-serif;font-size:7.8px" fill="#111">15.65</text>
<text x="430.7" y="49.5" text-anchor="middle" style="font-family:'Liberation Sans',Arial,sans-serif;font-size:7.8px" fill="#111">19.56</text>
<circle cx="157.6" cy="89.5" r="10.6" fill="none" stroke="#fff" stroke-width="2.1"/>
<circle cx="235.6" cy="89.5" r="10.6" fill="none" stroke="#fff" stroke-width="2.1"/>
<circle cx="313.2" cy="89.5" r="10.6" fill="none" stroke="#fff" stroke-width="2.1"/>
<circle cx="391.8" cy="89.5" r="10.6" fill="none" stroke="#fff" stroke-width="2.1"/>
<line x1="118.4" y1="89" x2="428" y2="89" stroke="#f01414" stroke-width="0.75" stroke-dasharray="1.4 1.4"/>
<circle cx="118.4" cy="89" r="1.3" fill="#f01818"/><circle cx="428" cy="89" r="1.3" fill="#f01818"/>
<line x1="117.2" y1="126.3" x2="193.2" y2="126.3" stroke="#111" stroke-width="0.7"/>
<path d="M194.2 126.3l-3-1.3v2.6z" fill="#111"/>
<circle cx="125.2" cy="126.3" r="0.95" fill="#111"/>
<text x="124.0" y="135.3" text-anchor="middle" style="font-family:'Liberation Sans',Arial,sans-serif;font-size:6.2px" fill="#222">−50</text>
<circle cx="140.1" cy="126.3" r="0.95" fill="#111"/>
<text x="138.9" y="135.3" text-anchor="middle" style="font-family:'Liberation Sans',Arial,sans-serif;font-size:6.2px" fill="#222">−25</text>
<circle cx="155.0" cy="126.3" r="0.95" fill="#111"/>
<text x="155.2" y="135.3" text-anchor="middle" style="font-family:'Liberation Sans',Arial,sans-serif;font-size:6.2px" fill="#222">0</text>
<circle cx="169.9" cy="126.3" r="0.95" fill="#111"/>
<text x="170.1" y="135.3" text-anchor="middle" style="font-family:'Liberation Sans',Arial,sans-serif;font-size:6.2px" fill="#222">25</text>
<circle cx="184.8" cy="126.3" r="0.95" fill="#111"/>
<text x="185.0" y="135.3" text-anchor="middle" style="font-family:'Liberation Sans',Arial,sans-serif;font-size:6.2px" fill="#222">50</text>
<text x="189.4" y="122.7" text-anchor="middle" style="font-family:'Liberation Sans',Arial,sans-serif;font-size:6px" fill="#222">mm</text>
<text x="155.4" y="146.8" text-anchor="middle" style="font-family:'Liberation Serif','Times New Roman',serif;font-size:9.4px" fill="#222">(a)</text>
<line x1="195.3" y1="126.3" x2="271.3" y2="126.3" stroke="#111" stroke-width="0.7"/>
<path d="M272.3 126.3l-3-1.3v2.6z" fill="#111"/>
<circle cx="203.3" cy="126.3" r="0.95" fill="#111"/>
<text x="202.1" y="135.3" text-anchor="middle" style="font-family:'Liberation Sans',Arial,sans-serif;font-size:6.2px" fill="#222">−50</text>
<circle cx="218.2" cy="126.3" r="0.95" fill="#111"/>
<text x="217.0" y="135.3" text-anchor="middle" style="font-family:'Liberation Sans',Arial,sans-serif;font-size:6.2px" fill="#222">−25</text>
<circle cx="233.1" cy="126.3" r="0.95" fill="#111"/>
<text x="233.3" y="135.3" text-anchor="middle" style="font-family:'Liberation Sans',Arial,sans-serif;font-size:6.2px" fill="#222">0</text>
<circle cx="248.0" cy="126.3" r="0.95" fill="#111"/>
<text x="248.2" y="135.3" text-anchor="middle" style="font-family:'Liberation Sans',Arial,sans-serif;font-size:6.2px" fill="#222">25</text>
<circle cx="262.9" cy="126.3" r="0.95" fill="#111"/>
<text x="263.1" y="135.3" text-anchor="middle" style="font-family:'Liberation Sans',Arial,sans-serif;font-size:6.2px" fill="#222">50</text>
<text x="267.5" y="122.7" text-anchor="middle" style="font-family:'Liberation Sans',Arial,sans-serif;font-size:6px" fill="#222">mm</text>
<text x="233.5" y="146.8" text-anchor="middle" style="font-family:'Liberation Serif','Times New Roman',serif;font-size:9.4px" fill="#222">(b)</text>
<line x1="273.6" y1="126.3" x2="349.6" y2="126.3" stroke="#111" stroke-width="0.7"/>
<path d="M350.6 126.3l-3-1.3v2.6z" fill="#111"/>
<circle cx="281.6" cy="126.3" r="0.95" fill="#111"/>
<text x="280.4" y="135.3" text-anchor="middle" style="font-family:'Liberation Sans',Arial,sans-serif;font-size:6.2px" fill="#222">−50</text>
<circle cx="296.5" cy="126.3" r="0.95" fill="#111"/>
<text x="295.3" y="135.3" text-anchor="middle" style="font-family:'Liberation Sans',Arial,sans-serif;font-size:6.2px" fill="#222">−25</text>
<circle cx="311.4" cy="126.3" r="0.95" fill="#111"/>
<text x="311.6" y="135.3" text-anchor="middle" style="font-family:'Liberation Sans',Arial,sans-serif;font-size:6.2px" fill="#222">0</text>
<circle cx="326.3" cy="126.3" r="0.95" fill="#111"/>
<text x="326.5" y="135.3" text-anchor="middle" style="font-family:'Liberation Sans',Arial,sans-serif;font-size:6.2px" fill="#222">25</text>
<circle cx="341.2" cy="126.3" r="0.95" fill="#111"/>
<text x="341.4" y="135.3" text-anchor="middle" style="font-family:'Liberation Sans',Arial,sans-serif;font-size:6.2px" fill="#222">50</text>
<text x="345.8" y="122.7" text-anchor="middle" style="font-family:'Liberation Sans',Arial,sans-serif;font-size:6px" fill="#222">mm</text>
<text x="311.8" y="146.8" text-anchor="middle" style="font-family:'Liberation Serif','Times New Roman',serif;font-size:9.4px" fill="#222">(c)</text>
<line x1="352.4" y1="126.3" x2="428.4" y2="126.3" stroke="#111" stroke-width="0.7"/>
<path d="M429.4 126.3l-3-1.3v2.6z" fill="#111"/>
<circle cx="360.4" cy="126.3" r="0.95" fill="#111"/>
<text x="359.2" y="135.3" text-anchor="middle" style="font-family:'Liberation Sans',Arial,sans-serif;font-size:6.2px" fill="#222">−50</text>
<circle cx="375.3" cy="126.3" r="0.95" fill="#111"/>
<text x="374.1" y="135.3" text-anchor="middle" style="font-family:'Liberation Sans',Arial,sans-serif;font-size:6.2px" fill="#222">−25</text>
<circle cx="390.2" cy="126.3" r="0.95" fill="#111"/>
<text x="390.4" y="135.3" text-anchor="middle" style="font-family:'Liberation Sans',Arial,sans-serif;font-size:6.2px" fill="#222">0</text>
<circle cx="405.1" cy="126.3" r="0.95" fill="#111"/>
<text x="405.3" y="135.3" text-anchor="middle" style="font-family:'Liberation Sans',Arial,sans-serif;font-size:6.2px" fill="#222">25</text>
<circle cx="420.0" cy="126.3" r="0.95" fill="#111"/>
<text x="420.2" y="135.3" text-anchor="middle" style="font-family:'Liberation Sans',Arial,sans-serif;font-size:6.2px" fill="#222">50</text>
<text x="424.6" y="122.7" text-anchor="middle" style="font-family:'Liberation Sans',Arial,sans-serif;font-size:6px" fill="#222">mm</text>
<text x="390.6" y="146.8" text-anchor="middle" style="font-family:'Liberation Serif','Times New Roman',serif;font-size:9.4px" fill="#222">(d)</text>
<rect x="11.3" y="166.5" width="213.2" height="13" fill="url(#cb)"/>
<text x="30.3" y="163.7" style="font-family:'Liberation Sans',Arial,sans-serif;font-size:8px" fill="#111">Tangential velocity</text>
<text x="176.3" y="163.7" style="font-family:'Liberation Sans',Arial,sans-serif;font-size:8px" fill="#111">[m / s]</text>
<text x="11.3" y="189.8" text-anchor="middle" style="font-family:'Liberation Sans',Arial,sans-serif;font-size:5.6px" fill="#111">−19.55</text>
<text x="32.7" y="189.8" text-anchor="middle" style="font-family:'Liberation Sans',Arial,sans-serif;font-size:5.6px" fill="#111">−15.64</text>
<text x="54.0" y="189.8" text-anchor="middle" style="font-family:'Liberation Sans',Arial,sans-serif;font-size:5.6px" fill="#111">−11.73</text>
<text x="75.4" y="189.8" text-anchor="middle" style="font-family:'Liberation Sans',Arial,sans-serif;font-size:5.6px" fill="#111">−7.82</text>
<text x="96.7" y="189.8" text-anchor="middle" style="font-family:'Liberation Sans',Arial,sans-serif;font-size:5.6px" fill="#111">−3.91</text>
<text x="118.0" y="189.8" text-anchor="middle" style="font-family:'Liberation Sans',Arial,sans-serif;font-size:5.6px" fill="#111">0.00</text>
<text x="139.4" y="189.8" text-anchor="middle" style="font-family:'Liberation Sans',Arial,sans-serif;font-size:5.6px" fill="#111">3.92</text>
<text x="160.8" y="189.8" text-anchor="middle" style="font-family:'Liberation Sans',Arial,sans-serif;font-size:5.6px" fill="#111">7.83</text>
<text x="182.1" y="189.8" text-anchor="middle" style="font-family:'Liberation Sans',Arial,sans-serif;font-size:5.6px" fill="#111">11.74</text>
<text x="203.5" y="189.8" text-anchor="middle" style="font-family:'Liberation Sans',Arial,sans-serif;font-size:5.6px" fill="#111">15.65</text>
<text x="224.8" y="189.8" text-anchor="middle" style="font-family:'Liberation Sans',Arial,sans-serif;font-size:5.6px" fill="#111">19.56</text>
<line x1="58.1" y1="192" x2="58.1" y2="366" stroke="#111" stroke-width="1.1"/>
<path d="M58.2 369.5l-1.6-4h3.2z" fill="#111"/>
<circle cx="58.2" cy="201.3" r="1.1" fill="#111"/>
<text x="54.8" y="204.0" text-anchor="end" style="font-family:'Liberation Serif','Times New Roman',serif;font-size:8.4px;font-weight:bold" fill="#111">−125</text>
<circle cx="58.2" cy="232.2" r="1.1" fill="#111"/>
<text x="54.8" y="234.9" text-anchor="end" style="font-family:'Liberation Serif','Times New Roman',serif;font-size:8.4px;font-weight:bold" fill="#111">−100</text>
<circle cx="58.2" cy="263.1" r="1.1" fill="#111"/>
<text x="54.8" y="265.8" text-anchor="end" style="font-family:'Liberation Serif','Times New Roman',serif;font-size:8.4px;font-weight:bold" fill="#111">−75</text>
<circle cx="58.2" cy="294.0" r="1.1" fill="#111"/>
<text x="54.8" y="296.7" text-anchor="end" style="font-family:'Liberation Serif','Times New Roman',serif;font-size:8.4px;font-weight:bold" fill="#111">−50</text>
<circle cx="58.2" cy="324.9" r="1.1" fill="#111"/>
<text x="54.8" y="327.6" text-anchor="end" style="font-family:'Liberation Serif','Times New Roman',serif;font-size:8.4px;font-weight:bold" fill="#111">−25</text>
<circle cx="58.2" cy="355.8" r="1.1" fill="#111"/>
<text x="52.4" y="358.1" text-anchor="end" style="font-family:'Liberation Serif','Times New Roman',serif;font-size:7.3px;font-weight:bold" fill="#111">0</text>
<text x="51" y="371" text-anchor="middle" style="font-family:'Liberation Serif','Times New Roman',serif;font-size:11.2px;font-weight:bold" fill="#111">Z</text>
<text x="52.2" y="384" text-anchor="middle" style="font-family:'Liberation Serif','Times New Roman',serif;font-size:10.8px;font-weight:bold" fill="#111">(mm)</text>
<text x="118.4" y="412.7" text-anchor="middle" style="font-family:'Liberation Serif','Times New Roman',serif;font-size:10.7px;font-weight:bold" fill="#111">(e)</text>
<defs>
<linearGradient id="plate" x1="0" x2="1" y1="0" y2="0"><stop offset="0" stop-color="#128694"/><stop offset="0.25" stop-color="#128c80"/><stop offset="0.5" stop-color="#1c9470"/><stop offset="0.78" stop-color="#2e9c5a"/><stop offset="0.9" stop-color="#54a648"/><stop offset="1" stop-color="#8ebc38"/></linearGradient>
<linearGradient id="plateg" x1="0" x2="1" y1="0" y2="0"><stop offset="0" stop-color="#1c9c86"/><stop offset="0.3" stop-color="#22a476"/><stop offset="0.7" stop-color="#2ea666"/><stop offset="1" stop-color="#3ca45c"/></linearGradient>
<linearGradient id="plate1" x1="0" x2="1" y1="0" y2="0"><stop offset="0" stop-color="#1484a2"/><stop offset="0.3" stop-color="#179482"/><stop offset="0.55" stop-color="#30a062"/><stop offset="0.8" stop-color="#3c9c54"/><stop offset="0.93" stop-color="#58a848"/><stop offset="1" stop-color="#86b838"/></linearGradient>
<linearGradient id="bowl" x1="0" x2="1" y1="0" y2="0"><stop offset="0" stop-color="#2a4cc8"/><stop offset="0.14" stop-color="#2c62cc"/><stop offset="0.28" stop-color="#2c8cb8"/><stop offset="0.42" stop-color="#3cb08c"/><stop offset="0.56" stop-color="#8ccc58"/><stop offset="0.72" stop-color="#d4c440"/><stop offset="0.86" stop-color="#e08a2c"/><stop offset="1" stop-color="#c0481c"/></linearGradient>
<linearGradient id="under1" x1="0" x2="1" y1="0" y2="0"><stop offset="0" stop-color="#1a8a98"/><stop offset="0.08" stop-color="#6cb860"/><stop offset="0.2" stop-color="#a4cc48"/><stop offset="0.27" stop-color="#2f80b8"/><stop offset="0.36" stop-color="#2c6cc4"/><stop offset="0.44" stop-color="#2a94a0"/><stop offset="0.54" stop-color="#8cc458"/><stop offset="0.64" stop-color="#d8c844"/><stop offset="0.73" stop-color="#e8a034"/><stop offset="0.82" stop-color="#c46824"/><stop offset="0.91" stop-color="#a05a20"/><stop offset="1" stop-color="#7aa838"/></linearGradient>
<linearGradient id="bowl2" x1="0" x2="1" y1="0" y2="0"><stop offset="0" stop-color="#2a5cc8"/><stop offset="0.14" stop-color="#2a74c0"/><stop offset="0.26" stop-color="#2a9c98"/><stop offset="0.42" stop-color="#58b870"/><stop offset="0.56" stop-color="#b4cc4c"/><stop offset="0.7" stop-color="#e0b83c"/><stop offset="0.84" stop-color="#e08a2c"/><stop offset="1" stop-color="#b8501c"/></linearGradient>
<linearGradient id="flare" x1="0" x2="1" y1="0" y2="0"><stop offset="0" stop-color="#2448cc"/><stop offset="0.3" stop-color="#2a66d0"/><stop offset="0.48" stop-color="#2c9cb8"/><stop offset="0.62" stop-color="#38b488"/><stop offset="0.74" stop-color="#8cc850"/><stop offset="0.84" stop-color="#d8c040"/><stop offset="0.93" stop-color="#e47c2a"/><stop offset="1" stop-color="#d04a20"/></linearGradient>
<linearGradient id="conetop" x1="0" x2="1" y1="0" y2="0"><stop offset="0" stop-color="#1038d4"/><stop offset="0.35" stop-color="#2a6ce0"/><stop offset="0.55" stop-color="#1a50d8"/><stop offset="0.66" stop-color="#2aa8c8"/><stop offset="0.74" stop-color="#48c880"/><stop offset="0.8" stop-color="#c8d040"/><stop offset="0.88" stop-color="#e88428"/><stop offset="1" stop-color="#d02c18"/></linearGradient>
<linearGradient id="skirt" x1="0" x2="1" y1="0" y2="0"><stop offset="0" stop-color="#0c34d0"/><stop offset="0.28" stop-color="#1c54dc"/><stop offset="0.42" stop-color="#2aa0d0"/><stop offset="0.55" stop-color="#38c8a0"/><stop offset="0.65" stop-color="#70d060"/><stop offset="0.73" stop-color="#d8d040"/><stop offset="0.83" stop-color="#ec8428"/><stop offset="1" stop-color="#d83018"/></linearGradient>
<linearGradient id="pshade" x1="0" x2="0" y1="0" y2="1"><stop offset="0" stop-color="#fff" stop-opacity="0.12"/><stop offset="0.45" stop-color="#000" stop-opacity="0.0"/><stop offset="0.72" stop-color="#003040" stop-opacity="0.34"/><stop offset="1" stop-color="#003040" stop-opacity="0.1"/></linearGradient>
<linearGradient id="bshade" x1="0" x2="0" y1="0" y2="1"><stop offset="0" stop-color="#000" stop-opacity="0.22"/><stop offset="0.5" stop-color="#000" stop-opacity="0"/><stop offset="1" stop-color="#fff" stop-opacity="0.12"/></linearGradient>
</defs>
<path d="M64.4 199.5 C72 197.6,84 196.2,99 193.9 C108 192.6,118 192.3,126 193.2 C140 194.4,158 198.2,173.4 200.6 A1.8 1.8 0 0 1 173.4 204.2 C165 205.2,158 205.4,150 206 C140 208.6,128 209.6,118 209.6 C108 209.6,98 207.6,88 205.4 C78 204.6,70 204.4,64.4 204.1 A2.3 2.3 0 0 1 64.4 199.5Z" fill="url(#under1)"/>
<path d="M64.4 199.5 C72 197.6,84 196.2,99 193.9 C108 192.6,118 192.3,126 193.2 C140 194.4,158 198.2,173.4 200.6 A1.8 1.8 0 0 1 175 203 C165 203.2,152 203,142 202.8 C128 202.8,112 201.8,100 202 C88 202,76 202.6,70 203.2 C67 203.6,65.4 204,64.4 204.1 A2.3 2.3 0 0 1 64.4 199.5Z" fill="url(#plate1)"/>
<path d="M70 200.4 C95 196.8,140 196.6,166 201.8 C140 199.8,100 199.8,70 200.4Z" fill="#0a6a78" opacity="0.55"/>
<path d="M64.4 199.5 C72 197.6,84 196.2,99 193.9 C108 192.6,118 192.3,126 193.2 C140 194.4,158 198.2,173.4 200.6 A1.8 1.8 0 0 1 173.4 204.2 C165 205.2,158 205.4,150 206 C140 208.6,128 209.6,118 209.6 C108 209.6,98 207.6,88 205.4 C78 204.6,70 204.4,64.4 204.1 A2.3 2.3 0 0 1 64.4 199.5Z" fill="url(#bshade)" opacity="0.6"/>
<path d="M66 233.4 L90 234.2 L90 235.6 C80 235.6,72 235.2,66 234.4Z" fill="#9cc648"/>
<path d="M88.5 233.8 C93.2 238.0,106.0 242.2,117.8 242.2 C129.4 242.2,142.3 238.0,147.0 233.8 Z" fill="url(#bowl2)"/>
<path d="M88.5 233.8 C93.2 238.0,106.0 242.2,117.8 242.2 C129.4 242.2,142.3 238.0,147.0 233.8 Z" fill="url(#bshade)"/>
<path d="M64.6 229.3 C70.0 228.2,84.0 227.7,119 227.7 C140.0 227.7,160.0 228.9,173.9 231.3 A1.3 1.3 0 0 1 173.9 233.9 C160.0 234.4,140.0 234.6,119 234.6 C92.0 234.6,76.0 234.4,64.6 233.9 A2.3 2.3 0 0 1 64.6 229.3 Z" fill="url(#plate)"/>
<path d="M64.6 229.3 C70.0 228.2,84.0 227.7,119 227.7 C140.0 227.7,160.0 228.9,173.9 231.3 A1.3 1.3 0 0 1 173.9 233.9 C160.0 234.4,140.0 234.6,119 234.6 C92.0 234.6,76.0 234.4,64.6 233.9 A2.3 2.3 0 0 1 64.6 229.3 Z" fill="url(#pshade)"/>
<path d="M89.0 265.4 C93.6 271.6,106.3 275.4,117.8 275.4 C129.3 275.4,142.0 271.6,146.6 265.4 Z" fill="url(#bowl)"/>
<path d="M89.0 265.4 C93.6 271.6,106.3 275.4,117.8 275.4 C129.3 275.4,142.0 271.6,146.6 265.4 Z" fill="url(#bshade)"/>
<path d="M64.2 261.2 C70.0 260.9,84.0 260.4,119 260.4 C140.0 260.4,160.0 261.6,173.9 264.0 A1.3 1.3 0 0 1 173.9 266.6 C160.0 266.6,140.0 266.6,119 266.6 C92.0 266.6,76.0 266.1,64.2 265.1 A1.9 1.9 0 0 1 64.2 261.2 Z" fill="url(#plate)"/>
<path d="M64.2 261.2 C70.0 260.9,84.0 260.4,119 260.4 C140.0 260.4,160.0 261.6,173.9 264.0 A1.3 1.3 0 0 1 173.9 266.6 C160.0 266.6,140.0 266.6,119 266.6 C92.0 266.6,76.0 266.1,64.2 265.1 A1.9 1.9 0 0 1 64.2 261.2 Z" fill="url(#pshade)"/>
<path d="M89.6 297.0 C94.2 304.4,106.7 309.0,118.1 309.0 C129.5 309.0,142.0 304.4,146.6 297.0 Z" fill="url(#bowl)"/>
<path d="M89.6 297.0 C94.2 304.4,106.7 309.0,118.1 309.0 C129.5 309.0,142.0 304.4,146.6 297.0 Z" fill="url(#bshade)"/>
<path d="M64.2 291.9 C70.0 290.1,84.0 289.6,119 289.6 C140.0 289.6,160.0 290.3,172.1 291.7 A3.1 3.1 0 0 1 172.1 297.9 C160.0 298.1,140.0 298.2,119 298.2 C92.0 298.2,76.0 297.4,64.2 295.8 A1.9 1.9 0 0 1 64.2 291.9 Z" fill="url(#plate)"/>
<path d="M64.2 291.9 C70.0 290.1,84.0 289.6,119 289.6 C140.0 289.6,160.0 290.3,172.1 291.7 A3.1 3.1 0 0 1 172.1 297.9 C160.0 298.1,140.0 298.2,119 298.2 C92.0 298.2,76.0 297.4,64.2 295.8 A1.9 1.9 0 0 1 64.2 291.9 Z" fill="url(#pshade)"/>
<path d="M104 327 C99 331,92.4 333,91.9 335.7 C92 339,96 341,99 342.8 C104 345.6,110 347.4,119 348 C126 347.8,134 346,140.7 342.8 C144 340.8,146.4 339.6,146.4 337.8 C146 335,141 332,136 328Z" fill="url(#flare)"/>
<path d="M104 327 C99 331,92.4 333,91.9 335.7 C92 339,96 341,99 342.8 C104 345.6,110 347.4,119 348 C126 347.8,134 346,140.7 342.8 C144 340.8,146.4 339.6,146.4 337.8 C146 335,141 332,136 328Z" fill="url(#bshade)"/>
<path d="M106.0 329.0 L91.8 338.0 L94.2 338.0 Z" fill="#000828" opacity="0.20"/>
<path d="M107.9 329.0 L95.5 340.1 L97.9 340.1 Z" fill="#ffffff" opacity="0.13"/>
<path d="M109.7 329.0 L99.2 342.1 L101.6 342.1 Z" fill="#000828" opacity="0.20"/>
<path d="M111.6 329.0 L102.9 343.9 L105.3 343.9 Z" fill="#ffffff" opacity="0.13"/>
<path d="M113.4 329.0 L106.7 345.4 L109.1 345.4 Z" fill="#000828" opacity="0.20"/>
<path d="M115.3 329.0 L110.4 346.6 L112.8 346.6 Z" fill="#ffffff" opacity="0.13"/>
<path d="M117.1 329.0 L114.1 347.3 L116.5 347.3 Z" fill="#000828" opacity="0.20"/>
<path d="M119.0 329.0 L117.8 347.5 L120.2 347.5 Z" fill="#ffffff" opacity="0.13"/>
<path d="M120.9 329.0 L121.5 347.3 L123.9 347.3 Z" fill="#000828" opacity="0.20"/>
<path d="M122.7 329.0 L125.2 346.6 L127.6 346.6 Z" fill="#ffffff" opacity="0.13"/>
<path d="M124.6 329.0 L128.9 345.4 L131.3 345.4 Z" fill="#000828" opacity="0.20"/>
<path d="M126.4 329.0 L132.7 343.9 L135.1 343.9 Z" fill="#ffffff" opacity="0.13"/>
<path d="M128.3 329.0 L136.4 342.1 L138.8 342.1 Z" fill="#000828" opacity="0.20"/>
<path d="M130.1 329.0 L140.1 340.1 L142.5 340.1 Z" fill="#ffffff" opacity="0.13"/>
<path d="M132.0 329.0 L143.8 338.0 L146.2 338.0 Z" fill="#000828" opacity="0.20"/>
<path d="M64.0 322.8 C70.0 322.8,84.0 322.3,119 322.3 C140.0 322.3,160.0 322.0,173.2 321.5 A2.0 2.0 0 0 1 173.2 325.5 C160.0 327.3,140.0 328.2,119 328.2 C92.0 328.2,76.0 327.6,64.0 326.2 A1.8 1.8 0 0 1 64.0 322.8 Z" fill="url(#plateg)"/>
<path d="M64.0 322.8 C70.0 322.8,84.0 322.3,119 322.3 C140.0 322.3,160.0 322.0,173.2 321.5 A2.0 2.0 0 0 1 173.2 325.5 C160.0 327.3,140.0 328.2,119 328.2 C92.0 328.2,76.0 327.6,64.0 326.2 A1.8 1.8 0 0 1 64.0 322.8 Z" fill="url(#pshade)"/>
<clipPath id="cct"><path d="M109.8 357 L93.1 373.5 L91.5 377 L147 377 L144 373 L128 357Z"/></clipPath><clipPath id="csk"><path d="M93.1 373.5 L90.9 375.3 L89.9 390.0 L91.8 393.0 L94.7 390.2 L96.5 394.5 L99.4 391.6 L101.2 395.9 L104.1 392.8 L105.9 397.0 L108.9 393.8 L110.6 397.7 L113.6 394.4 L115.3 398.1 L118.3 394.6 L120.1 398.1 L123.0 394.3 L124.8 397.6 L127.7 393.6 L129.5 396.7 L132.4 392.5 L134.2 395.4 L137.2 391.1 L138.9 393.8 L141.9 389.3 L143.6 392.0 L146.6 387.4 L148.3 389.9 L151.3 387.0 L146.2 374.5 L144.0 373.0 L140.0 375.6 L135.6 377.2 L131.2 375.6 L126.8 377.2 L122.4 375.6 L118.0 377.2 L113.6 375.6 L109.2 377.2 L104.8 375.6 L100.4 377.2 L96.0 375.6Z"/></clipPath>
<path d="M109.8 357 L93.1 373.5 L91.5 377 L147 377 L144 373 L128 357Z" fill="url(#conetop)"/>
<g clip-path="url(#cct)">
<path d="M110.3 357 L90.6 377 L93.6 377 Z" fill="#000828" opacity="0.24"/>
<path d="M111.5 357 L94.3 377 L97.3 377 Z" fill="#ffffff" opacity="0.15"/>
<path d="M112.6 357 L98.1 377 L101.1 377 Z" fill="#000828" opacity="0.24"/>
<path d="M113.8 357 L101.8 377 L104.8 377 Z" fill="#ffffff" opacity="0.15"/>
<path d="M114.9 357 L105.5 377 L108.5 377 Z" fill="#000828" opacity="0.24"/>
<path d="M116.1 357 L109.3 377 L112.3 377 Z" fill="#ffffff" opacity="0.15"/>
<path d="M117.3 357 L113.0 377 L116.0 377 Z" fill="#000828" opacity="0.24"/>
<path d="M118.4 357 L116.7 377 L119.7 377 Z" fill="#ffffff" opacity="0.15"/>
<path d="M119.6 357 L120.5 377 L123.5 377 Z" fill="#000828" opacity="0.24"/>
<path d="M120.7 357 L124.2 377 L127.2 377 Z" fill="#ffffff" opacity="0.15"/>
<path d="M121.9 357 L127.9 377 L130.9 377 Z" fill="#000828" opacity="0.24"/>
<path d="M123.1 357 L131.7 377 L134.7 377 Z" fill="#ffffff" opacity="0.15"/>
<path d="M124.2 357 L135.4 377 L138.4 377 Z" fill="#000828" opacity="0.24"/>
<path d="M125.4 357 L139.1 377 L142.1 377 Z" fill="#ffffff" opacity="0.15"/>
<path d="M126.5 357 L142.9 377 L145.9 377 Z" fill="#000828" opacity="0.24"/>
<path d="M127.7 357 L146.6 377 L149.6 377 Z" fill="#ffffff" opacity="0.15"/>
</g>
<path d="M93.1 373.5 L90.9 375.3 L89.9 390.0 L91.8 393.0 L94.7 390.2 L96.5 394.5 L99.4 391.6 L101.2 395.9 L104.1 392.8 L105.9 397.0 L108.9 393.8 L110.6 397.7 L113.6 394.4 L115.3 398.1 L118.3 394.6 L120.1 398.1 L123.0 394.3 L124.8 397.6 L127.7 393.6 L129.5 396.7 L132.4 392.5 L134.2 395.4 L137.2 391.1 L138.9 393.8 L141.9 389.3 L143.6 392.0 L146.6 387.4 L148.3 389.9 L151.3 387.0 L146.2 374.5 L144.0 373.0 L140.0 375.6 L135.6 377.2 L131.2 375.6 L126.8 377.2 L122.4 375.6 L118.0 377.2 L113.6 375.6 L109.2 377.2 L104.8 375.6 L100.4 377.2 L96.0 375.6Z" fill="url(#skirt)"/>
<g clip-path="url(#csk)">
<path d="M89.5 374 L90.3 399 L92.0 399 L91.6 374 Z" fill="#000828" opacity="0.22"/>
<path d="M92.1 374 L92.5 399 L93.7 399 L93.7 374 Z" fill="#fff" opacity="0.12"/>
<path d="M94.2 374 L95.0 399 L96.7 399 L96.3 374 Z" fill="#000828" opacity="0.22"/>
<path d="M96.8 374 L97.2 399 L98.5 399 L98.5 374 Z" fill="#fff" opacity="0.12"/>
<path d="M98.9 374 L99.7 399 L101.5 399 L101.1 374 Z" fill="#000828" opacity="0.22"/>
<path d="M101.5 374 L101.9 399 L103.2 399 L103.2 374 Z" fill="#fff" opacity="0.12"/>
<path d="M103.6 374 L104.4 399 L106.2 399 L105.8 374 Z" fill="#000828" opacity="0.22"/>
<path d="M106.2 374 L106.6 399 L107.9 399 L107.9 374 Z" fill="#fff" opacity="0.12"/>
<path d="M108.4 374 L109.2 399 L110.9 399 L110.5 374 Z" fill="#000828" opacity="0.22"/>
<path d="M111.0 374 L111.4 399 L112.6 399 L112.6 374 Z" fill="#fff" opacity="0.12"/>
<path d="M113.1 374 L113.9 399 L115.6 399 L115.2 374 Z" fill="#000828" opacity="0.22"/>
<path d="M115.7 374 L116.1 399 L117.3 399 L117.3 374 Z" fill="#fff" opacity="0.12"/>
<path d="M117.8 374 L118.6 399 L120.3 399 L119.9 374 Z" fill="#000828" opacity="0.22"/>
<path d="M120.4 374 L120.8 399 L122.0 399 L122.0 374 Z" fill="#fff" opacity="0.12"/>
<path d="M122.5 374 L123.3 399 L125.0 399 L124.6 374 Z" fill="#000828" opacity="0.22"/>
<path d="M125.1 374 L125.5 399 L126.8 399 L126.8 374 Z" fill="#fff" opacity="0.12"/>
<path d="M127.2 374 L128.0 399 L129.7 399 L129.3 374 Z" fill="#000828" opacity="0.22"/>
<path d="M129.8 374 L130.2 399 L131.5 399 L131.5 374 Z" fill="#fff" opacity="0.12"/>
<path d="M131.9 374 L132.7 399 L134.5 399 L134.1 374 Z" fill="#000828" opacity="0.22"/>
<path d="M134.5 374 L134.9 399 L136.2 399 L136.2 374 Z" fill="#fff" opacity="0.12"/>
<path d="M136.7 374 L137.5 399 L139.2 399 L138.8 374 Z" fill="#000828" opacity="0.22"/>
<path d="M139.2 374 L139.6 399 L140.9 399 L140.9 374 Z" fill="#fff" opacity="0.12"/>
<path d="M141.4 374 L142.2 399 L143.9 399 L143.5 374 Z" fill="#000828" opacity="0.22"/>
<path d="M144.0 374 L144.4 399 L145.6 399 L145.6 374 Z" fill="#fff" opacity="0.12"/>
<path d="M146.1 374 L146.9 399 L148.6 399 L148.2 374 Z" fill="#000828" opacity="0.22"/>
<path d="M148.7 374 L149.1 399 L150.3 399 L150.3 374 Z" fill="#fff" opacity="0.12"/>
<path d="M150.8 374 L151.6 399 L153.3 399 L152.9 374 Z" fill="#000828" opacity="0.22"/>
<path d="M153.4 374 L153.8 399 L155.0 399 L155.0 374 Z" fill="#fff" opacity="0.12"/>
<rect x="88" y="373" width="66" height="5" fill="#000828" opacity="0.18"/>
</g>
<path d="M63.9 353.8 C70.0 353.9,84.0 353.4,119 353.4 C140.0 353.4,160.0 353.5,173.7 353.7 A1.5 1.5 0 0 1 173.7 356.7 C160.0 357.2,140.0 357.5,119 357.5 C92.0 357.5,76.0 357.3,63.9 357.0 A1.6 1.6 0 0 1 63.9 353.8 Z" fill="url(#plateg)"/>
<path d="M63.9 353.8 C70.0 353.9,84.0 353.4,119 353.4 C140.0 353.4,160.0 353.5,173.7 353.7 A1.5 1.5 0 0 1 173.7 356.7 C160.0 357.2,140.0 357.5,119 357.5 C92.0 357.5,76.0 357.3,63.9 357.0 A1.6 1.6 0 0 1 63.9 353.8 Z" fill="url(#pshade)"/>
<rect x="294.2" y="162.9" width="251.9" height="204.3" fill="none" stroke="#222" stroke-width="0.8"/>
<line x1="294.2" y1="353.5" x2="297.9" y2="353.5" stroke="#222" stroke-width="0.8"/>
<line x1="294.2" y1="339.9" x2="296.0" y2="339.9" stroke="#222" stroke-width="0.8"/>
<text x="290.3" y="356.9" text-anchor="end" style="font-family:'Liberation Serif','Times New Roman',serif;font-size:8.8px" fill="#222">0.0</text>
<line x1="294.2" y1="326.4" x2="297.9" y2="326.4" stroke="#222" stroke-width="0.8"/>
<line x1="294.2" y1="312.8" x2="296.0" y2="312.8" stroke="#222" stroke-width="0.8"/>
<text x="290.3" y="329.7" text-anchor="end" style="font-family:'Liberation Serif','Times New Roman',serif;font-size:8.8px" fill="#222">2.0×10<tspan dy="-3.1" font-size="5.8px">3</tspan></text>
<line x1="294.2" y1="299.2" x2="297.9" y2="299.2" stroke="#222" stroke-width="0.8"/>
<line x1="294.2" y1="285.7" x2="296.0" y2="285.7" stroke="#222" stroke-width="0.8"/>
<text x="290.3" y="302.6" text-anchor="end" style="font-family:'Liberation Serif','Times New Roman',serif;font-size:8.8px" fill="#222">4.0×10<tspan dy="-3.1" font-size="5.8px">3</tspan></text>
<line x1="294.2" y1="272.1" x2="297.9" y2="272.1" stroke="#222" stroke-width="0.8"/>
<line x1="294.2" y1="258.6" x2="296.0" y2="258.6" stroke="#222" stroke-width="0.8"/>
<text x="290.3" y="275.5" text-anchor="end" style="font-family:'Liberation Serif','Times New Roman',serif;font-size:8.8px" fill="#222">6.0×10<tspan dy="-3.1" font-size="5.8px">3</tspan></text>
<line x1="294.2" y1="245.0" x2="297.9" y2="245.0" stroke="#222" stroke-width="0.8"/>
<line x1="294.2" y1="231.4" x2="296.0" y2="231.4" stroke="#222" stroke-width="0.8"/>
<text x="290.3" y="248.3" text-anchor="end" style="font-family:'Liberation Serif','Times New Roman',serif;font-size:8.8px" fill="#222">8.0×10<tspan dy="-3.1" font-size="5.8px">3</tspan></text>
<line x1="294.2" y1="217.8" x2="297.9" y2="217.8" stroke="#222" stroke-width="0.8"/>
<line x1="294.2" y1="204.3" x2="296.0" y2="204.3" stroke="#222" stroke-width="0.8"/>
<text x="290.3" y="221.2" text-anchor="end" style="font-family:'Liberation Serif','Times New Roman',serif;font-size:8.8px" fill="#222">1.0×10<tspan dy="-3.1" font-size="5.8px">4</tspan></text>
<line x1="294.2" y1="190.7" x2="297.9" y2="190.7" stroke="#222" stroke-width="0.8"/>
<line x1="294.2" y1="177.2" x2="296.0" y2="177.2" stroke="#222" stroke-width="0.8"/>
<text x="290.3" y="194.1" text-anchor="end" style="font-family:'Liberation Serif','Times New Roman',serif;font-size:8.8px" fill="#222">1.2×10<tspan dy="-3.1" font-size="5.8px">4</tspan></text>
<line x1="294.2" y1="163.6" x2="297.9" y2="163.6" stroke="#222" stroke-width="0.8"/>
<text x="290.3" y="167.4" text-anchor="end" style="font-family:'Liberation Serif','Times New Roman',serif;font-size:8.8px" fill="#222">1.4×10<tspan dy="-3.1" font-size="5.8px">4</tspan></text>
<line x1="308.5" y1="367.2" x2="308.5" y2="363.5" stroke="#222" stroke-width="0.8"/>
<line x1="322.5" y1="367.2" x2="322.5" y2="365.4" stroke="#222" stroke-width="0.8"/>
<text x="308.0" y="377.8" text-anchor="middle" style="font-family:'Liberation Serif','Times New Roman',serif;font-size:8.8px" fill="#222">- 20</text>
<line x1="336.5" y1="367.2" x2="336.5" y2="363.5" stroke="#222" stroke-width="0.8"/>
<line x1="350.5" y1="367.2" x2="350.5" y2="365.4" stroke="#222" stroke-width="0.8"/>
<text x="336.0" y="377.8" text-anchor="middle" style="font-family:'Liberation Serif','Times New Roman',serif;font-size:8.8px" fill="#222">-15</text>
<line x1="364.5" y1="367.2" x2="364.5" y2="363.5" stroke="#222" stroke-width="0.8"/>
<line x1="378.5" y1="367.2" x2="378.5" y2="365.4" stroke="#222" stroke-width="0.8"/>
<text x="364.0" y="377.8" text-anchor="middle" style="font-family:'Liberation Serif','Times New Roman',serif;font-size:8.8px" fill="#222">-10</text>
<line x1="392.5" y1="367.2" x2="392.5" y2="363.5" stroke="#222" stroke-width="0.8"/>
<line x1="406.5" y1="367.2" x2="406.5" y2="365.4" stroke="#222" stroke-width="0.8"/>
<text x="392.0" y="377.8" text-anchor="middle" style="font-family:'Liberation Serif','Times New Roman',serif;font-size:8.8px" fill="#222">-5</text>
<line x1="420.5" y1="367.2" x2="420.5" y2="363.5" stroke="#222" stroke-width="0.8"/>
<line x1="434.5" y1="367.2" x2="434.5" y2="365.4" stroke="#222" stroke-width="0.8"/>
<text x="420.5" y="377.8" text-anchor="middle" style="font-family:'Liberation Serif','Times New Roman',serif;font-size:8.8px" fill="#222">0</text>
<line x1="448.5" y1="367.2" x2="448.5" y2="363.5" stroke="#222" stroke-width="0.8"/>
<line x1="462.5" y1="367.2" x2="462.5" y2="365.4" stroke="#222" stroke-width="0.8"/>
<text x="448.5" y="377.8" text-anchor="middle" style="font-family:'Liberation Serif','Times New Roman',serif;font-size:8.8px" fill="#222">5</text>
<line x1="476.5" y1="367.2" x2="476.5" y2="363.5" stroke="#222" stroke-width="0.8"/>
<line x1="490.5" y1="367.2" x2="490.5" y2="365.4" stroke="#222" stroke-width="0.8"/>
<text x="476.5" y="377.8" text-anchor="middle" style="font-family:'Liberation Serif','Times New Roman',serif;font-size:8.8px" fill="#222">10</text>
<line x1="504.5" y1="367.2" x2="504.5" y2="363.5" stroke="#222" stroke-width="0.8"/>
<line x1="518.5" y1="367.2" x2="518.5" y2="365.4" stroke="#222" stroke-width="0.8"/>
<text x="504.5" y="377.8" text-anchor="middle" style="font-family:'Liberation Serif','Times New Roman',serif;font-size:8.8px" fill="#222">15</text>
<line x1="532.5" y1="367.2" x2="532.5" y2="363.5" stroke="#222" stroke-width="0.8"/>
<text x="532.5" y="377.8" text-anchor="middle" style="font-family:'Liberation Serif','Times New Roman',serif;font-size:8.8px" fill="#222">20</text>
<text x="420.3" y="393.5" text-anchor="middle" style="font-family:'Liberation Serif','Times New Roman',serif;font-size:10.5px" fill="#222">Radial position (mm)</text>
<text transform="translate(259.2,263) rotate(-90)" text-anchor="middle" style="font-family:'Liberation Serif','Times New Roman',serif;font-size:10.95px" fill="#222">Turbulence Dissipation Rate (m<tspan dy="-3" font-size="6.5px">2</tspan><tspan dy="3">/s</tspan><tspan dy="-3" font-size="6.5px">3</tspan><tspan dy="3">)</tspan></text>
<text x="397.2" y="412.7" text-anchor="middle" style="font-family:'Liberation Serif','Times New Roman',serif;font-size:10.9px;font-weight:bold" fill="#111">(f)</text>
<polyline points="314.1,353.3 319.7,320.9 325.3,273.4 330.9,267.6 336.5,254.0 342.1,242.6 347.7,236.1 353.3,232.6 358.9,227.4 364.5,220.8 370.1,198.9 375.7,210.2 381.3,220.8 386.9,228.0 392.5,237.1 398.1,252.9 403.7,266.3 409.3,281.5 414.9,287.4 420.5,291.3 426.1,285.5 431.7,281.6 437.3,265.0 442.9,254.5 448.5,235.0 454.1,229.3 459.7,222.8 465.3,217.5 470.9,183.1 476.5,219.1 482.1,225.2 487.7,234.5 493.3,237.6 498.9,258.2 504.5,269.5 510.1,279.5 515.7,318.4 521.3,353.3 526.9,353.3" fill="none" stroke="#3a3a3a" stroke-width="0.8" stroke-linejoin="round"/>
<rect x="312.3" y="351.5" width="3.6" height="3.6" fill="#3a3a3a"/>
<rect x="317.9" y="319.1" width="3.6" height="3.6" fill="#3a3a3a"/>
<rect x="323.5" y="271.6" width="3.6" height="3.6" fill="#3a3a3a"/>
<rect x="329.1" y="265.8" width="3.6" height="3.6" fill="#3a3a3a"/>
<rect x="334.7" y="252.2" width="3.6" height="3.6" fill="#3a3a3a"/>
<rect x="340.3" y="240.8" width="3.6" height="3.6" fill="#3a3a3a"/>
<rect x="345.9" y="234.3" width="3.6" height="3.6" fill="#3a3a3a"/>
<rect x="351.5" y="230.8" width="3.6" height="3.6" fill="#3a3a3a"/>
<rect x="357.1" y="225.6" width="3.6" height="3.6" fill="#3a3a3a"/>
<rect x="362.7" y="219.0" width="3.6" height="3.6" fill="#3a3a3a"/>
<rect x="368.3" y="197.1" width="3.6" height="3.6" fill="#3a3a3a"/>
<rect x="373.9" y="208.4" width="3.6" height="3.6" fill="#3a3a3a"/>
<rect x="379.5" y="219.0" width="3.6" height="3.6" fill="#3a3a3a"/>
<rect x="385.1" y="226.2" width="3.6" height="3.6" fill="#3a3a3a"/>
<rect x="390.7" y="235.3" width="3.6" height="3.6" fill="#3a3a3a"/>
<rect x="396.3" y="251.1" width="3.6" height="3.6" fill="#3a3a3a"/>
<rect x="401.9" y="264.5" width="3.6" height="3.6" fill="#3a3a3a"/>
<rect x="407.5" y="279.7" width="3.6" height="3.6" fill="#3a3a3a"/>
<rect x="413.1" y="285.6" width="3.6" height="3.6" fill="#3a3a3a"/>
<rect x="418.7" y="289.5" width="3.6" height="3.6" fill="#3a3a3a"/>
<rect x="424.3" y="283.7" width="3.6" height="3.6" fill="#3a3a3a"/>
<rect x="429.9" y="279.8" width="3.6" height="3.6" fill="#3a3a3a"/>
<rect x="435.5" y="263.2" width="3.6" height="3.6" fill="#3a3a3a"/>
<rect x="441.1" y="252.7" width="3.6" height="3.6" fill="#3a3a3a"/>
<rect x="446.7" y="233.2" width="3.6" height="3.6" fill="#3a3a3a"/>
<rect x="452.3" y="227.5" width="3.6" height="3.6" fill="#3a3a3a"/>
<rect x="457.9" y="221.0" width="3.6" height="3.6" fill="#3a3a3a"/>
<rect x="463.5" y="215.7" width="3.6" height="3.6" fill="#3a3a3a"/>
<rect x="469.1" y="181.3" width="3.6" height="3.6" fill="#3a3a3a"/>
<rect x="474.7" y="217.3" width="3.6" height="3.6" fill="#3a3a3a"/>
<rect x="480.3" y="223.4" width="3.6" height="3.6" fill="#3a3a3a"/>
<rect x="485.9" y="232.7" width="3.6" height="3.6" fill="#3a3a3a"/>
<rect x="491.5" y="235.8" width="3.6" height="3.6" fill="#3a3a3a"/>
<rect x="497.1" y="256.4" width="3.6" height="3.6" fill="#3a3a3a"/>
<rect x="502.7" y="267.7" width="3.6" height="3.6" fill="#3a3a3a"/>
<rect x="508.3" y="277.7" width="3.6" height="3.6" fill="#3a3a3a"/>
<rect x="513.9" y="316.6" width="3.6" height="3.6" fill="#3a3a3a"/>
<rect x="519.5" y="351.5" width="3.6" height="3.6" fill="#3a3a3a"/>
<rect x="525.1" y="351.5" width="3.6" height="3.6" fill="#3a3a3a"/>
<polyline points="314.1,353.3 319.7,331.6 325.3,294.7 330.9,285.9 336.5,280.5 342.1,266.1 347.7,261.1 353.3,258.5 358.9,255.0 364.5,252.5 370.1,245.0 375.7,243.4 381.3,244.3 386.9,246.8 392.5,256.3 398.1,264.7 403.7,271.1 409.3,284.1 414.9,297.7 420.5,299.2 426.1,296.8 431.7,284.2 437.3,271.0 442.9,262.4 448.5,256.0 454.1,250.0 459.7,240.5 465.3,249.9 470.9,250.4 476.5,254.7 482.1,258.7 487.7,267.6 493.3,277.6 498.9,286.3 504.5,292.9 510.1,307.9 515.7,323.2 521.3,353.3 526.9,353.3" fill="none" stroke="#ee2a2a" stroke-width="0.8" stroke-linejoin="round"/>
<circle cx="314.1" cy="353.3" r="1.85" fill="#ee2a2a"/>
<circle cx="319.7" cy="331.6" r="1.85" fill="#ee2a2a"/>
<circle cx="325.3" cy="294.7" r="1.85" fill="#ee2a2a"/>
<circle cx="330.9" cy="285.9" r="1.85" fill="#ee2a2a"/>
<circle cx="336.5" cy="280.5" r="1.85" fill="#ee2a2a"/>
<circle cx="342.1" cy="266.1" r="1.85" fill="#ee2a2a"/>
<circle cx="347.7" cy="261.1" r="1.85" fill="#ee2a2a"/>
<circle cx="353.3" cy="258.5" r="1.85" fill="#ee2a2a"/>
<circle cx="358.9" cy="255.0" r="1.85" fill="#ee2a2a"/>
<circle cx="364.5" cy="252.5" r="1.85" fill="#ee2a2a"/>
<circle cx="370.1" cy="245.0" r="1.85" fill="#ee2a2a"/>
<circle cx="375.7" cy="243.4" r="1.85" fill="#ee2a2a"/>
<circle cx="381.3" cy="244.3" r="1.85" fill="#ee2a2a"/>
<circle cx="386.9" cy="246.8" r="1.85" fill="#ee2a2a"/>
<circle cx="392.5" cy="256.3" r="1.85" fill="#ee2a2a"/>
<circle cx="398.1" cy="264.7" r="1.85" fill="#ee2a2a"/>
<circle cx="403.7" cy="271.1" r="1.85" fill="#ee2a2a"/>
<circle cx="409.3" cy="284.1" r="1.85" fill="#ee2a2a"/>
<circle cx="414.9" cy="297.7" r="1.85" fill="#ee2a2a"/>
<circle cx="420.5" cy="299.2" r="1.85" fill="#ee2a2a"/>
<circle cx="426.1" cy="296.8" r="1.85" fill="#ee2a2a"/>
<circle cx="431.7" cy="284.2" r="1.85" fill="#ee2a2a"/>
<circle cx="437.3" cy="271.0" r="1.85" fill="#ee2a2a"/>
<circle cx="442.9" cy="262.4" r="1.85" fill="#ee2a2a"/>
<circle cx="448.5" cy="256.0" r="1.85" fill="#ee2a2a"/>
<circle cx="454.1" cy="250.0" r="1.85" fill="#ee2a2a"/>
<circle cx="459.7" cy="240.5" r="1.85" fill="#ee2a2a"/>
<circle cx="465.3" cy="249.9" r="1.85" fill="#ee2a2a"/>
<circle cx="470.9" cy="250.4" r="1.85" fill="#ee2a2a"/>
<circle cx="476.5" cy="254.7" r="1.85" fill="#ee2a2a"/>
<circle cx="482.1" cy="258.7" r="1.85" fill="#ee2a2a"/>
<circle cx="487.7" cy="267.6" r="1.85" fill="#ee2a2a"/>
<circle cx="493.3" cy="277.6" r="1.85" fill="#ee2a2a"/>
<circle cx="498.9" cy="286.3" r="1.85" fill="#ee2a2a"/>
<circle cx="504.5" cy="292.9" r="1.85" fill="#ee2a2a"/>
<circle cx="510.1" cy="307.9" r="1.85" fill="#ee2a2a"/>
<circle cx="515.7" cy="323.2" r="1.85" fill="#ee2a2a"/>
<circle cx="521.3" cy="353.3" r="1.85" fill="#ee2a2a"/>
<circle cx="526.9" cy="353.3" r="1.85" fill="#ee2a2a"/>
<polyline points="314.1,353.3 319.7,334.2 325.3,318.9 330.9,298.0 336.5,282.3 342.1,275.2 347.7,272.1 353.3,270.5 358.9,268.1 364.5,266.3 370.1,264.7 375.7,263.2 381.3,261.9 386.9,259.8 392.5,258.1 398.1,272.1 403.7,277.1 409.3,282.6 414.9,286.7 420.5,291.3 426.1,286.1 431.7,282.9 437.3,276.9 442.9,273.7 448.5,261.3 454.1,262.8 459.7,264.3 465.3,266.0 470.9,268.1 476.5,270.2 482.1,273.7 487.7,279.5 493.3,283.4 498.9,294.2 504.5,317.1 510.1,333.4 515.7,353.3 521.3,353.3 526.9,353.3" fill="none" stroke="#1c6ae0" stroke-width="0.8" stroke-linejoin="round"/>
<path d="M314.1 350.8l2.35 4.1h-4.7z" fill="#1c6ae0"/>
<path d="M319.7 331.7l2.35 4.1h-4.7z" fill="#1c6ae0"/>
<path d="M325.3 316.4l2.35 4.1h-4.7z" fill="#1c6ae0"/>
<path d="M330.9 295.5l2.35 4.1h-4.7z" fill="#1c6ae0"/>
<path d="M336.5 279.8l2.35 4.1h-4.7z" fill="#1c6ae0"/>
<path d="M342.1 272.7l2.35 4.1h-4.7z" fill="#1c6ae0"/>
<path d="M347.7 269.6l2.35 4.1h-4.7z" fill="#1c6ae0"/>
<path d="M353.3 268.0l2.35 4.1h-4.7z" fill="#1c6ae0"/>
<path d="M358.9 265.6l2.35 4.1h-4.7z" fill="#1c6ae0"/>
<path d="M364.5 263.8l2.35 4.1h-4.7z" fill="#1c6ae0"/>
<path d="M370.1 262.2l2.35 4.1h-4.7z" fill="#1c6ae0"/>
<path d="M375.7 260.7l2.35 4.1h-4.7z" fill="#1c6ae0"/>
<path d="M381.3 259.4l2.35 4.1h-4.7z" fill="#1c6ae0"/>
<path d="M386.9 257.3l2.35 4.1h-4.7z" fill="#1c6ae0"/>
<path d="M392.5 255.6l2.35 4.1h-4.7z" fill="#1c6ae0"/>
<path d="M398.1 269.6l2.35 4.1h-4.7z" fill="#1c6ae0"/>
<path d="M403.7 274.6l2.35 4.1h-4.7z" fill="#1c6ae0"/>
<path d="M409.3 280.1l2.35 4.1h-4.7z" fill="#1c6ae0"/>
<path d="M414.9 284.2l2.35 4.1h-4.7z" fill="#1c6ae0"/>
<path d="M420.5 288.8l2.35 4.1h-4.7z" fill="#1c6ae0"/>
<path d="M426.1 283.6l2.35 4.1h-4.7z" fill="#1c6ae0"/>
<path d="M431.7 280.4l2.35 4.1h-4.7z" fill="#1c6ae0"/>
<path d="M437.3 274.4l2.35 4.1h-4.7z" fill="#1c6ae0"/>
<path d="M442.9 271.2l2.35 4.1h-4.7z" fill="#1c6ae0"/>
<path d="M448.5 258.8l2.35 4.1h-4.7z" fill="#1c6ae0"/>
<path d="M454.1 260.3l2.35 4.1h-4.7z" fill="#1c6ae0"/>
<path d="M459.7 261.8l2.35 4.1h-4.7z" fill="#1c6ae0"/>
<path d="M465.3 263.5l2.35 4.1h-4.7z" fill="#1c6ae0"/>
<path d="M470.9 265.6l2.35 4.1h-4.7z" fill="#1c6ae0"/>
<path d="M476.5 267.7l2.35 4.1h-4.7z" fill="#1c6ae0"/>
<path d="M482.1 271.2l2.35 4.1h-4.7z" fill="#1c6ae0"/>
<path d="M487.7 277.0l2.35 4.1h-4.7z" fill="#1c6ae0"/>
<path d="M493.3 280.9l2.35 4.1h-4.7z" fill="#1c6ae0"/>
<path d="M498.9 291.7l2.35 4.1h-4.7z" fill="#1c6ae0"/>
<path d="M504.5 314.6l2.35 4.1h-4.7z" fill="#1c6ae0"/>
<path d="M510.1 330.9l2.35 4.1h-4.7z" fill="#1c6ae0"/>
<path d="M515.7 350.8l2.35 4.1h-4.7z" fill="#1c6ae0"/>
<path d="M521.3 350.8l2.35 4.1h-4.7z" fill="#1c6ae0"/>
<path d="M526.9 350.8l2.35 4.1h-4.7z" fill="#1c6ae0"/>
<line x1="486.8" y1="183.7" x2="506" y2="183.7" stroke="#3a3a3a" stroke-width="0.7"/>
<rect x="494.8" y="181.9" width="3.6" height="3.6" fill="#3a3a3a"/>
<text x="508.4" y="186.7" style="font-family:'Liberation Serif','Times New Roman',serif;font-size:8.8px" fill="#222">L1=20</text>
<line x1="486.8" y1="194.5" x2="506" y2="194.5" stroke="#ee2a2a" stroke-width="0.7"/>
<circle cx="496.6" cy="194.5" r="1.85" fill="#ee2a2a"/>
<text x="508.4" y="197.5" style="font-family:'Liberation Serif','Times New Roman',serif;font-size:8.8px" fill="#222">L1=30</text>
<line x1="486.8" y1="205.3" x2="506" y2="205.3" stroke="#1c6ae0" stroke-width="0.7"/>
<path d="M496.6 202.8l2.35 4.1h-4.7z" fill="#1c6ae0"/>
<text x="508.4" y="208.3" style="font-family:'Liberation Serif','Times New Roman',serif;font-size:8.8px" fill="#222">L1=40</text>
</svg></div></body></html>
